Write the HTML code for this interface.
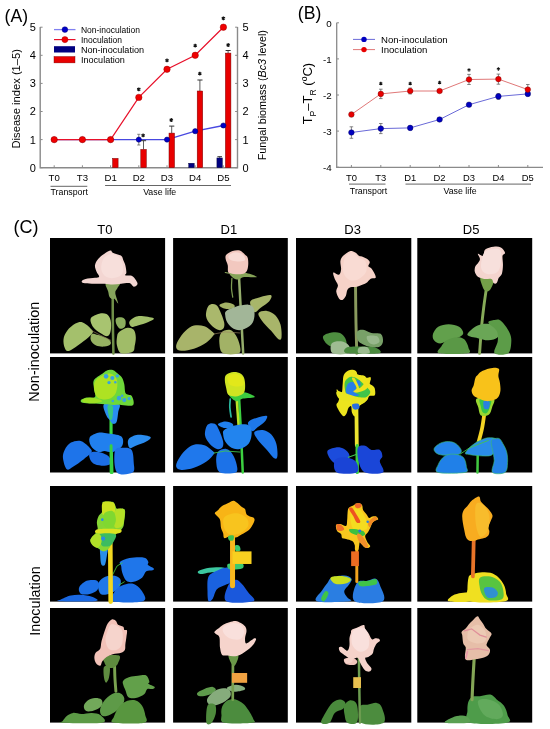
<!DOCTYPE html>
<html><head><meta charset="utf-8"><style>
html,body{margin:0;padding:0;background:#fff;}
svg{display:block;}
</style></head><body>
<svg width="550" height="729" viewBox="0 0 550 729">
<rect width="550" height="729" fill="#fff"/>
<text x="4.6" y="21.6" font-size="17.6" font-family="'Liberation Sans', Arial, sans-serif">(A)</text>
<path d="M40.2 27 V167.7 H237.5 V27" fill="none" stroke="#8a8a8a" stroke-width="1.4"/>
<line x1="40.2" x2="42.6" y1="167.7" y2="167.7" stroke="#8a8a8a" stroke-width="1"/>
<line x1="235.1" x2="237.5" y1="167.7" y2="167.7" stroke="#8a8a8a" stroke-width="1"/>
<text x="35.8" y="171.6" font-size="11" text-anchor="end" font-family="'Liberation Sans', Arial, sans-serif">0</text>
<text x="242.6" y="171.6" font-size="11" font-family="'Liberation Sans', Arial, sans-serif">0</text>
<line x1="40.2" x2="42.6" y1="139.6" y2="139.6" stroke="#8a8a8a" stroke-width="1"/>
<line x1="235.1" x2="237.5" y1="139.6" y2="139.6" stroke="#8a8a8a" stroke-width="1"/>
<text x="35.8" y="143.5" font-size="11" text-anchor="end" font-family="'Liberation Sans', Arial, sans-serif">1</text>
<text x="242.6" y="143.5" font-size="11" font-family="'Liberation Sans', Arial, sans-serif">1</text>
<line x1="40.2" x2="42.6" y1="111.5" y2="111.5" stroke="#8a8a8a" stroke-width="1"/>
<line x1="235.1" x2="237.5" y1="111.5" y2="111.5" stroke="#8a8a8a" stroke-width="1"/>
<text x="35.8" y="115.4" font-size="11" text-anchor="end" font-family="'Liberation Sans', Arial, sans-serif">2</text>
<text x="242.6" y="115.4" font-size="11" font-family="'Liberation Sans', Arial, sans-serif">2</text>
<line x1="40.2" x2="42.6" y1="83.4" y2="83.4" stroke="#8a8a8a" stroke-width="1"/>
<line x1="235.1" x2="237.5" y1="83.4" y2="83.4" stroke="#8a8a8a" stroke-width="1"/>
<text x="35.8" y="87.3" font-size="11" text-anchor="end" font-family="'Liberation Sans', Arial, sans-serif">3</text>
<text x="242.6" y="87.3" font-size="11" font-family="'Liberation Sans', Arial, sans-serif">3</text>
<line x1="40.2" x2="42.6" y1="55.3" y2="55.3" stroke="#8a8a8a" stroke-width="1"/>
<line x1="235.1" x2="237.5" y1="55.3" y2="55.3" stroke="#8a8a8a" stroke-width="1"/>
<text x="35.8" y="59.2" font-size="11" text-anchor="end" font-family="'Liberation Sans', Arial, sans-serif">4</text>
<text x="242.6" y="59.2" font-size="11" font-family="'Liberation Sans', Arial, sans-serif">4</text>
<line x1="40.2" x2="42.6" y1="27.2" y2="27.2" stroke="#8a8a8a" stroke-width="1"/>
<line x1="235.1" x2="237.5" y1="27.2" y2="27.2" stroke="#8a8a8a" stroke-width="1"/>
<text x="35.8" y="31.1" font-size="11" text-anchor="end" font-family="'Liberation Sans', Arial, sans-serif">5</text>
<text x="242.6" y="31.1" font-size="11" font-family="'Liberation Sans', Arial, sans-serif">5</text>
<line x1="54.2" x2="54.2" y1="167.7" y2="165.3" stroke="#8a8a8a" stroke-width="1"/>
<text x="54.2" y="181.4" font-size="9.6" text-anchor="middle" font-family="'Liberation Sans', Arial, sans-serif">T0</text>
<line x1="82.4" x2="82.4" y1="167.7" y2="165.3" stroke="#8a8a8a" stroke-width="1"/>
<text x="82.4" y="181.4" font-size="9.6" text-anchor="middle" font-family="'Liberation Sans', Arial, sans-serif">T3</text>
<line x1="110.6" x2="110.6" y1="167.7" y2="165.3" stroke="#8a8a8a" stroke-width="1"/>
<text x="110.6" y="181.4" font-size="9.6" text-anchor="middle" font-family="'Liberation Sans', Arial, sans-serif">D1</text>
<line x1="138.8" x2="138.8" y1="167.7" y2="165.3" stroke="#8a8a8a" stroke-width="1"/>
<text x="138.8" y="181.4" font-size="9.6" text-anchor="middle" font-family="'Liberation Sans', Arial, sans-serif">D2</text>
<line x1="167.0" x2="167.0" y1="167.7" y2="165.3" stroke="#8a8a8a" stroke-width="1"/>
<text x="167.0" y="181.4" font-size="9.6" text-anchor="middle" font-family="'Liberation Sans', Arial, sans-serif">D3</text>
<line x1="195.2" x2="195.2" y1="167.7" y2="165.3" stroke="#8a8a8a" stroke-width="1"/>
<text x="195.2" y="181.4" font-size="9.6" text-anchor="middle" font-family="'Liberation Sans', Arial, sans-serif">D4</text>
<line x1="223.4" x2="223.4" y1="167.7" y2="165.3" stroke="#8a8a8a" stroke-width="1"/>
<text x="223.4" y="181.4" font-size="9.6" text-anchor="middle" font-family="'Liberation Sans', Arial, sans-serif">D5</text>
<line x1="50.5" x2="87.3" y1="186.3" y2="186.3" stroke="#555" stroke-width="0.9"/>
<text x="69.2" y="195" font-size="8.8" text-anchor="middle" font-family="'Liberation Sans', Arial, sans-serif">Transport</text>
<line x1="105.1" x2="231" y1="185.5" y2="185.5" stroke="#555" stroke-width="0.9"/>
<text x="159.7" y="195" font-size="8.8" text-anchor="middle" font-family="'Liberation Sans', Arial, sans-serif">Vase life</text>
<text transform="translate(20.4 98.75) rotate(-90)" font-size="11.2" text-anchor="middle" font-family="'Liberation Sans', Arial, sans-serif">Disease index (1–5)</text>
<text transform="translate(265.5 95.2) rotate(-90)" font-size="10.8" text-anchor="middle" font-family="'Liberation Sans', Arial, sans-serif">Fungal biomass (<tspan font-style="italic">Bc3</tspan> level)</text>
<polyline points="54.2,139.6 82.4,139.6 110.6,139.6 138.8,139.6 167.0,139.6 195.2,131.2 223.4,125.5" fill="none" stroke="#4848e0" stroke-width="1.3"/>
<polyline points="54.2,139.6 82.4,139.6 110.6,139.6 138.8,97.4 167.0,69.3 195.2,55.3 223.4,27.2" fill="none" stroke="#e8102a" stroke-width="1.2"/>
<rect x="188.7" y="163.2" width="5.5" height="4.5" fill="#000080" stroke="#000030" stroke-width="0.4"/>
<line x1="219.7" x2="219.7" y1="157.9" y2="156.5" stroke="#333" stroke-width="0.8"/>
<line x1="217.4" x2="222.0" y1="156.5" y2="156.5" stroke="#333" stroke-width="0.8"/>
<rect x="216.9" y="157.9" width="5.5" height="9.8" fill="#000080" stroke="#000030" stroke-width="0.4"/>
<rect x="112.6" y="158.4" width="5.5" height="9.3" fill="#e80000" stroke="#7a0000" stroke-width="0.5"/>
<line x1="143.5" x2="143.5" y1="149.4" y2="140.7" stroke="#333" stroke-width="0.8"/>
<line x1="141.0" x2="146.1" y1="140.7" y2="140.7" stroke="#333" stroke-width="1"/>
<rect x="140.8" y="149.4" width="5.5" height="18.3" fill="#e80000" stroke="#7a0000" stroke-width="0.5"/>
<line x1="171.7" x2="171.7" y1="133.1" y2="126.1" stroke="#333" stroke-width="0.8"/>
<line x1="169.2" x2="174.3" y1="126.1" y2="126.1" stroke="#333" stroke-width="1"/>
<rect x="169.0" y="133.1" width="5.5" height="34.6" fill="#e80000" stroke="#7a0000" stroke-width="0.5"/>
<line x1="199.9" x2="199.9" y1="91.0" y2="80.0" stroke="#333" stroke-width="0.8"/>
<line x1="197.4" x2="202.5" y1="80.0" y2="80.0" stroke="#333" stroke-width="1"/>
<rect x="197.2" y="91.0" width="5.5" height="76.7" fill="#e80000" stroke="#7a0000" stroke-width="0.5"/>
<line x1="228.1" x2="228.1" y1="53.1" y2="50.5" stroke="#333" stroke-width="0.8"/>
<line x1="225.6" x2="230.7" y1="50.5" y2="50.5" stroke="#333" stroke-width="1"/>
<rect x="225.4" y="53.1" width="5.5" height="114.6" fill="#e80000" stroke="#7a0000" stroke-width="0.5"/>
<path d="M138.8 134.3 V145 M137.2 134.3 H140.4 M137.2 145 H140.4" stroke="#555" stroke-width="0.7" fill="none"/>
<circle cx="54.2" cy="139.6" r="2.6" fill="#0000c8" stroke="#000060" stroke-width="0.5"/>
<circle cx="82.4" cy="139.6" r="2.6" fill="#0000c8" stroke="#000060" stroke-width="0.5"/>
<circle cx="110.6" cy="139.6" r="2.6" fill="#0000c8" stroke="#000060" stroke-width="0.5"/>
<circle cx="138.8" cy="139.6" r="2.6" fill="#0000c8" stroke="#000060" stroke-width="0.5"/>
<circle cx="167.0" cy="139.6" r="2.6" fill="#0000c8" stroke="#000060" stroke-width="0.5"/>
<circle cx="195.2" cy="131.2" r="2.6" fill="#0000c8" stroke="#000060" stroke-width="0.5"/>
<circle cx="223.4" cy="125.5" r="2.6" fill="#0000c8" stroke="#000060" stroke-width="0.5"/>
<circle cx="54.2" cy="139.6" r="3.2" fill="#f00000" stroke="#a00000" stroke-width="0.5"/>
<circle cx="82.4" cy="139.6" r="3.2" fill="#f00000" stroke="#a00000" stroke-width="0.5"/>
<circle cx="110.6" cy="139.6" r="3.2" fill="#f00000" stroke="#a00000" stroke-width="0.5"/>
<circle cx="138.8" cy="97.4" r="3.2" fill="#f00000" stroke="#a00000" stroke-width="0.5"/>
<circle cx="167.0" cy="69.3" r="3.2" fill="#f00000" stroke="#a00000" stroke-width="0.5"/>
<circle cx="195.2" cy="55.3" r="3.2" fill="#f00000" stroke="#a00000" stroke-width="0.5"/>
<circle cx="223.4" cy="27.2" r="3.2" fill="#f00000" stroke="#a00000" stroke-width="0.5"/>
<path d="M138.80 87.40L138.80 91.20M137.15 88.35L140.45 90.25M140.45 88.35L137.15 90.25" stroke="#111" stroke-width="1.15" fill="none"/>
<path d="M167.00 58.50L167.00 62.30M165.35 59.45L168.65 61.35M168.65 59.45L165.35 61.35" stroke="#111" stroke-width="1.15" fill="none"/>
<path d="M195.20 43.70L195.20 47.50M193.55 44.65L196.85 46.55M196.85 44.65L193.55 46.55" stroke="#111" stroke-width="1.15" fill="none"/>
<path d="M223.40 16.40L223.40 20.20M221.75 17.35L225.05 19.25M225.05 17.35L221.75 19.25" stroke="#111" stroke-width="1.15" fill="none"/>
<path d="M143.10 133.50L143.10 137.30M141.45 134.45L144.75 136.35M144.75 134.45L141.45 136.35" stroke="#111" stroke-width="1.15" fill="none"/>
<path d="M171.30 118.10L171.30 121.90M169.65 119.05L172.95 120.95M172.95 119.05L169.65 120.95" stroke="#111" stroke-width="1.15" fill="none"/>
<path d="M199.80 71.70L199.80 75.50M198.15 72.65L201.45 74.55M201.45 72.65L198.15 74.55" stroke="#111" stroke-width="1.15" fill="none"/>
<path d="M228.20 43.10L228.20 46.90M226.55 44.05L229.85 45.95M229.85 44.05L226.55 45.95" stroke="#111" stroke-width="1.15" fill="none"/>
<line x1="54" x2="75.5" y1="29.6" y2="29.6" stroke="#8080f0" stroke-width="1.3"/>
<circle cx="64.9" cy="29.6" r="2.9" fill="#0000c8" stroke="#000060" stroke-width="0.4"/>
<line x1="54" x2="75.5" y1="39.6" y2="39.6" stroke="#e8102a" stroke-width="1.2"/>
<circle cx="64.9" cy="39.6" r="3.1" fill="#f00000" stroke="#a00000" stroke-width="0.4"/>
<rect x="54" y="46.2" width="21" height="6.3" fill="#000080"/>
<rect x="54" y="56.5" width="21" height="6.4" fill="#e80000" stroke="#7a0000" stroke-width="0.4"/>
<text x="80.9" y="32.7" font-size="8.5" font-family="'Liberation Sans', Arial, sans-serif">Non-inoculation</text>
<text x="80.9" y="42.7" font-size="8.5" font-family="'Liberation Sans', Arial, sans-serif">Inoculation</text>
<text x="80.9" y="52.7" font-size="9.1" font-family="'Liberation Sans', Arial, sans-serif">Non-inoculation</text>
<text x="80.9" y="62.8" font-size="9.1" font-family="'Liberation Sans', Arial, sans-serif">Inoculation</text>
<text x="297.8" y="19.4" font-size="17.6" font-family="'Liberation Sans', Arial, sans-serif">(B)</text>
<path d="M336.7 22.8 V167.4 H543" fill="none" stroke="#8a8a8a" stroke-width="1.3"/>
<line x1="336.7" x2="339" y1="22.8" y2="22.8" stroke="#8a8a8a" stroke-width="1"/>
<text x="331.6" y="26.9" font-size="9.8" text-anchor="end" font-family="'Liberation Sans', Arial, sans-serif">0</text>
<line x1="336.7" x2="339" y1="58.9" y2="58.9" stroke="#8a8a8a" stroke-width="1"/>
<text x="331.6" y="63.0" font-size="9.8" text-anchor="end" font-family="'Liberation Sans', Arial, sans-serif">-1</text>
<line x1="336.7" x2="339" y1="95.0" y2="95.0" stroke="#8a8a8a" stroke-width="1"/>
<text x="331.6" y="99.1" font-size="9.8" text-anchor="end" font-family="'Liberation Sans', Arial, sans-serif">-2</text>
<line x1="336.7" x2="339" y1="131.1" y2="131.1" stroke="#8a8a8a" stroke-width="1"/>
<text x="331.6" y="135.2" font-size="9.8" text-anchor="end" font-family="'Liberation Sans', Arial, sans-serif">-3</text>
<line x1="336.7" x2="339" y1="167.2" y2="167.2" stroke="#8a8a8a" stroke-width="1"/>
<text x="331.6" y="171.3" font-size="9.8" text-anchor="end" font-family="'Liberation Sans', Arial, sans-serif">-4</text>
<line x1="351.4" x2="351.4" y1="167.4" y2="165" stroke="#8a8a8a" stroke-width="1"/>
<text x="351.4" y="180.6" font-size="9.4" text-anchor="middle" font-family="'Liberation Sans', Arial, sans-serif">T0</text>
<line x1="380.8" x2="380.8" y1="167.4" y2="165" stroke="#8a8a8a" stroke-width="1"/>
<text x="380.8" y="180.6" font-size="9.4" text-anchor="middle" font-family="'Liberation Sans', Arial, sans-serif">T3</text>
<line x1="410.2" x2="410.2" y1="167.4" y2="165" stroke="#8a8a8a" stroke-width="1"/>
<text x="410.2" y="180.6" font-size="9.4" text-anchor="middle" font-family="'Liberation Sans', Arial, sans-serif">D1</text>
<line x1="439.6" x2="439.6" y1="167.4" y2="165" stroke="#8a8a8a" stroke-width="1"/>
<text x="439.6" y="180.6" font-size="9.4" text-anchor="middle" font-family="'Liberation Sans', Arial, sans-serif">D2</text>
<line x1="469.0" x2="469.0" y1="167.4" y2="165" stroke="#8a8a8a" stroke-width="1"/>
<text x="469.0" y="180.6" font-size="9.4" text-anchor="middle" font-family="'Liberation Sans', Arial, sans-serif">D3</text>
<line x1="498.4" x2="498.4" y1="167.4" y2="165" stroke="#8a8a8a" stroke-width="1"/>
<text x="498.4" y="180.6" font-size="9.4" text-anchor="middle" font-family="'Liberation Sans', Arial, sans-serif">D4</text>
<line x1="527.8" x2="527.8" y1="167.4" y2="165" stroke="#8a8a8a" stroke-width="1"/>
<text x="527.8" y="180.6" font-size="9.4" text-anchor="middle" font-family="'Liberation Sans', Arial, sans-serif">D5</text>
<line x1="349" x2="385.5" y1="184.1" y2="184.1" stroke="#555" stroke-width="0.9"/>
<text x="368.5" y="194" font-size="8.8" text-anchor="middle" font-family="'Liberation Sans', Arial, sans-serif">Transport</text>
<line x1="405.5" x2="531" y1="184.1" y2="184.1" stroke="#555" stroke-width="0.9"/>
<text x="460" y="194" font-size="8.8" text-anchor="middle" font-family="'Liberation Sans', Arial, sans-serif">Vase life</text>
<text transform="translate(312 93.6) rotate(-90)" font-size="13" text-anchor="middle" font-family="'Liberation Sans', Arial, sans-serif">T<tspan font-size="8.6" dy="3.8">P</tspan><tspan dy="-3.8">–T</tspan><tspan font-size="8.6" dy="3.8">R</tspan><tspan dy="-3.8"> (</tspan><tspan font-size="8.6" dy="-5">o</tspan><tspan dy="5">C)</tspan></text>
<polyline points="351.4,132.5 380.8,128.6 410.2,127.9 439.6,119.5 469.0,104.7 498.4,96.4 527.8,93.9" fill="none" stroke="#6a6ad8" stroke-width="1"/>
<polyline points="351.4,114.5 380.8,93.9 410.2,91.0 439.6,91.0 469.0,79.5 498.4,79.1 527.8,89.6" fill="none" stroke="#e07878" stroke-width="1"/>
<path d="M351.4 126.8 V138.3 M349.6 126.8 H353.2 M349.6 138.3 H353.2" stroke="#555" stroke-width="0.7" fill="none"/>
<path d="M380.8 123.5 V133.6 M379.0 123.5 H382.6 M379.0 133.6 H382.6" stroke="#555" stroke-width="0.7" fill="none"/>
<path d="M410.2 126.4 V129.3 M408.4 126.4 H412.0 M408.4 129.3 H412.0" stroke="#555" stroke-width="0.7" fill="none"/>
<path d="M439.6 118.1 V121.0 M437.8 118.1 H441.4 M437.8 121.0 H441.4" stroke="#555" stroke-width="0.7" fill="none"/>
<path d="M469.0 103.3 V106.2 M467.2 103.3 H470.8 M467.2 106.2 H470.8" stroke="#555" stroke-width="0.7" fill="none"/>
<path d="M498.4 93.6 V99.3 M496.6 93.6 H500.2 M496.6 99.3 H500.2" stroke="#555" stroke-width="0.7" fill="none"/>
<path d="M527.8 92.5 V95.4 M526.0 92.5 H529.6 M526.0 95.4 H529.6" stroke="#555" stroke-width="0.7" fill="none"/>
<path d="M351.4 112.3 V116.7 M349.6 112.3 H353.2 M349.6 116.7 H353.2" stroke="#555" stroke-width="0.7" fill="none"/>
<path d="M380.8 89.2 V98.6 M379.0 89.2 H382.6 M379.0 98.6 H382.6" stroke="#555" stroke-width="0.7" fill="none"/>
<path d="M410.2 88.1 V93.9 M408.4 88.1 H412.0 M408.4 93.9 H412.0" stroke="#555" stroke-width="0.7" fill="none"/>
<path d="M439.6 89.6 V92.5 M437.8 89.6 H441.4 M437.8 92.5 H441.4" stroke="#555" stroke-width="0.7" fill="none"/>
<path d="M469.0 74.4 V84.5 M467.2 74.4 H470.8 M467.2 84.5 H470.8" stroke="#555" stroke-width="0.7" fill="none"/>
<path d="M498.4 74.1 V84.2 M496.6 74.1 H500.2 M496.6 84.2 H500.2" stroke="#555" stroke-width="0.7" fill="none"/>
<path d="M527.8 84.5 V94.6 M526.0 84.5 H529.6 M526.0 94.6 H529.6" stroke="#555" stroke-width="0.7" fill="none"/>
<circle cx="351.4" cy="132.5" r="2.8" fill="#0000c0" stroke="#000050" stroke-width="0.4"/>
<circle cx="380.8" cy="128.6" r="2.8" fill="#0000c0" stroke="#000050" stroke-width="0.4"/>
<circle cx="410.2" cy="127.9" r="2.8" fill="#0000c0" stroke="#000050" stroke-width="0.4"/>
<circle cx="439.6" cy="119.5" r="2.8" fill="#0000c0" stroke="#000050" stroke-width="0.4"/>
<circle cx="469.0" cy="104.7" r="2.8" fill="#0000c0" stroke="#000050" stroke-width="0.4"/>
<circle cx="498.4" cy="96.4" r="2.8" fill="#0000c0" stroke="#000050" stroke-width="0.4"/>
<circle cx="527.8" cy="93.9" r="2.8" fill="#0000c0" stroke="#000050" stroke-width="0.4"/>
<circle cx="351.4" cy="114.5" r="2.8" fill="#e80000" stroke="#700000" stroke-width="0.4"/>
<circle cx="380.8" cy="93.9" r="2.8" fill="#e80000" stroke="#700000" stroke-width="0.4"/>
<circle cx="410.2" cy="91.0" r="2.8" fill="#e80000" stroke="#700000" stroke-width="0.4"/>
<circle cx="439.6" cy="91.0" r="2.8" fill="#e80000" stroke="#700000" stroke-width="0.4"/>
<circle cx="469.0" cy="79.5" r="2.8" fill="#e80000" stroke="#700000" stroke-width="0.4"/>
<circle cx="498.4" cy="79.1" r="2.8" fill="#e80000" stroke="#700000" stroke-width="0.4"/>
<circle cx="527.8" cy="89.6" r="2.8" fill="#e80000" stroke="#700000" stroke-width="0.4"/>
<path d="M380.80 81.84L380.80 85.36M379.27 82.72L382.33 84.48M382.33 82.72L379.27 84.48" stroke="#111" stroke-width="1.07" fill="none"/>
<path d="M410.20 81.84L410.20 85.36M408.67 82.72L411.73 84.48M411.73 82.72L408.67 84.48" stroke="#111" stroke-width="1.07" fill="none"/>
<path d="M439.60 80.84L439.60 84.36M438.07 81.72L441.13 83.48M441.13 81.72L438.07 83.48" stroke="#111" stroke-width="1.07" fill="none"/>
<path d="M469.00 68.24L469.00 71.76M467.47 69.12L470.53 70.88M470.53 69.12L467.47 70.88" stroke="#111" stroke-width="1.07" fill="none"/>
<path d="M498.40 67.24L498.40 70.76M496.87 68.12L499.93 69.88M499.93 68.12L496.87 69.88" stroke="#111" stroke-width="1.07" fill="none"/>
<line x1="353" x2="375" y1="39.4" y2="39.4" stroke="#6a6ad8" stroke-width="1"/>
<circle cx="364" cy="39.4" r="2.7" fill="#0000c0"/>
<line x1="353" x2="375" y1="49.6" y2="49.6" stroke="#e07878" stroke-width="1"/>
<circle cx="364" cy="49.6" r="2.7" fill="#e80000"/>
<text x="381" y="42.8" font-size="9.6" font-family="'Liberation Sans', Arial, sans-serif">Non-inoculation</text>
<text x="381" y="53" font-size="9.6" font-family="'Liberation Sans', Arial, sans-serif">Inoculation</text>
<text x="13.4" y="233.2" font-size="18" font-family="'Liberation Sans', Arial, sans-serif">(C)</text>
<text x="104.8" y="233.6" font-size="13" text-anchor="middle" font-family="'Liberation Sans', Arial, sans-serif">T0</text>
<text x="228.9" y="233.6" font-size="13" text-anchor="middle" font-family="'Liberation Sans', Arial, sans-serif">D1</text>
<text x="352.6" y="233.6" font-size="13" text-anchor="middle" font-family="'Liberation Sans', Arial, sans-serif">D3</text>
<text x="471.1" y="233.6" font-size="13" text-anchor="middle" font-family="'Liberation Sans', Arial, sans-serif">D5</text>
<text transform="translate(38.9 351.7) rotate(-90)" font-size="14.4" text-anchor="middle" font-family="'Liberation Sans', Arial, sans-serif">Non-inoculation</text>
<text transform="translate(39.9 601) rotate(-90)" font-size="14.4" text-anchor="middle" font-family="'Liberation Sans', Arial, sans-serif">Inoculation</text>
<g transform="translate(50 238) scale(0.20927 0.20982)"><rect width="550" height="550" fill="#000"/><path d="M300.0,225.0 C300.0,250.8 299.5,325.8 300.0,380.0 C300.5,434.2 302.5,521.7 303.0,550.0" fill="none" stroke="#6f8f48" stroke-width="12" stroke-linecap="round"/><path d="M200.0,437.6 C191.7,428.1 166.7,403.1 150.0,400.6 C133.3,398.1 113.3,412.3 100.0,422.6 C86.7,432.9 75.8,449.3 70.0,462.6 C64.2,475.9 63.3,490.1 65.0,502.6 C66.7,515.1 72.5,533.4 80.0,537.6 C87.5,541.8 96.7,535.1 110.0,527.6 C123.3,520.1 145.0,504.3 160.0,492.6 C175.0,480.9 193.3,466.8 200.0,457.6 C206.7,448.4 208.3,447.1 200.0,437.6Z" fill="#a4c06c" /><path d="M195.0,382.6 C200.0,372.3 222.5,363.9 235.0,360.6 C247.5,357.3 260.8,357.3 270.0,362.6 C279.2,367.9 286.7,379.3 290.0,392.6 C293.3,405.9 292.5,430.1 290.0,442.6 C287.5,455.1 283.3,465.9 275.0,467.6 C266.7,469.3 251.7,460.1 240.0,452.6 C228.3,445.1 212.5,434.3 205.0,422.6 C197.5,410.9 190.0,392.9 195.0,382.6Z" fill="#a8c470" /><path d="M200.0,457.6 C205.8,453.4 216.7,458.4 230.0,462.6 C243.3,466.8 270.0,475.6 280.0,482.6 C290.0,489.6 293.3,498.8 290.0,504.6 C286.7,510.4 271.7,516.3 260.0,517.6 C248.3,518.9 230.8,517.6 220.0,512.6 C209.2,507.6 198.3,496.8 195.0,487.6 C191.7,478.4 194.2,461.8 200.0,457.6Z" fill="#96b262" /><path d="M315.0,384.6 C318.7,378.8 332.5,376.6 340.0,377.6 C347.5,378.6 357.0,383.1 360.0,390.6 C363.0,398.1 362.2,415.6 358.0,422.6 C353.8,429.6 341.7,434.3 335.0,432.6 C328.3,430.9 321.3,420.6 318.0,412.6 C314.7,404.6 311.3,390.4 315.0,384.6Z" fill="#8cae5e" /><path d="M380.0,397.6 C385.0,389.3 400.8,375.1 420.0,372.6 C439.2,370.1 486.7,377.9 495.0,382.6 C503.3,387.3 482.5,394.8 470.0,400.6 C457.5,406.4 433.3,413.9 420.0,417.6 C406.7,421.3 396.7,425.9 390.0,422.6 C383.3,419.3 375.0,405.9 380.0,397.6Z" fill="#a2bf6a" /><path d="M330.0,447.6 C338.3,440.1 358.3,429.3 370.0,427.6 C381.7,425.9 393.3,430.1 400.0,437.6 C406.7,445.1 409.2,460.1 410.0,472.6 C410.8,485.1 407.5,500.9 405.0,512.6 C402.5,524.3 405.8,536.4 395.0,542.6 C384.2,548.8 352.5,554.6 340.0,549.6 C327.5,544.6 323.3,525.4 320.0,512.6 C316.7,499.8 318.3,483.4 320.0,472.6 C321.7,461.8 321.7,455.1 330.0,447.6Z" fill="#a0bc68" /><polyline points="200,442.6 240,462.6 290,487.6" fill="none" stroke="#9a8a60" stroke-width="3" stroke-linecap="round"/><path d="M268.0,215.0 C277.0,208.3 323.0,210.8 332.0,215.0 C341.0,219.2 325.3,232.2 322.0,240.0 C318.7,247.8 311.3,250.0 312.0,262.0 C312.7,274.0 326.7,307.3 326.0,312.0 C325.3,316.7 312.7,293.3 308.0,290.0 C303.3,286.7 302.0,293.7 298.0,292.0 C294.0,290.3 287.3,286.2 284.0,280.0 C280.7,273.8 280.7,265.8 278.0,255.0 C275.3,244.2 259.0,221.7 268.0,215.0Z" fill="#86a45c" /><path d="M230.0,100.0 C237.5,90.8 250.0,81.7 260.0,75.0 C270.0,68.3 283.3,60.8 290.0,60.0 C296.7,59.2 291.7,65.8 300.0,70.0 C308.3,74.2 331.7,79.2 340.0,85.0 C348.3,90.8 346.7,97.5 350.0,105.0 C353.3,112.5 357.5,120.0 360.0,130.0 C362.5,140.0 365.0,157.0 365.0,165.0 C365.0,173.0 355.8,175.5 360.0,178.0 C364.2,180.5 381.7,176.3 390.0,180.0 C398.3,183.7 405.3,193.3 410.0,200.0 C414.7,206.7 419.7,214.7 418.0,220.0 C416.3,225.3 406.3,232.8 400.0,232.0 C393.7,231.2 390.0,217.3 380.0,215.0 C370.0,212.7 353.3,216.8 340.0,218.0 C326.7,219.2 313.3,222.0 300.0,222.0 C286.7,222.0 276.7,218.7 260.0,218.0 C243.3,217.3 216.7,218.5 200.0,218.0 C183.3,217.5 168.0,217.2 160.0,215.0 C152.0,212.8 150.3,208.3 152.0,205.0 C153.7,201.7 159.5,197.5 170.0,195.0 C180.5,192.5 204.2,191.7 215.0,190.0 C225.8,188.3 233.8,190.0 235.0,185.0 C236.2,180.0 225.3,169.2 222.0,160.0 C218.7,150.8 213.7,140.0 215.0,130.0 C216.3,120.0 222.5,109.2 230.0,100.0Z" fill="#f3d6d2" /><path d="M255.0,100.0 C262.5,88.0 277.5,79.3 290.0,78.0 C302.5,76.7 320.3,83.3 330.0,92.0 C339.7,100.7 345.5,117.0 348.0,130.0 C350.5,143.0 351.3,160.0 345.0,170.0 C338.7,180.0 322.8,187.5 310.0,190.0 C297.2,192.5 278.8,191.7 268.0,185.0 C257.2,178.3 247.2,164.2 245.0,150.0 C242.8,135.8 247.5,112.0 255.0,100.0Z" fill="#f7dfdb" /></g>
<g transform="translate(173.1 238) scale(0.20855 0.20982)"><rect width="550" height="550" fill="#000"/><path d="M316.0,185.0 C317.3,209.2 320.7,269.2 324.0,330.0 C327.3,390.8 334.0,513.3 336.0,550.0" fill="none" stroke="#95ad6c" stroke-width="12" stroke-linecap="round"/><path d="M282.0,192.0 C281.7,200.0 279.3,225.0 280.0,240.0 C280.7,255.0 285.0,275.0 286.0,282.0" fill="none" stroke="#7c9a52" stroke-width="6" stroke-linecap="round"/><path d="M195.0,452.6 C187.5,445.6 165.8,426.4 150.0,420.6 C134.2,414.8 115.0,413.9 100.0,417.6 C85.0,421.3 72.5,430.9 60.0,442.6 C47.5,454.3 32.5,474.3 25.0,487.6 C17.5,500.9 12.5,514.3 15.0,522.6 C17.5,530.9 25.8,536.8 40.0,537.6 C54.2,538.4 80.0,534.3 100.0,527.6 C120.0,520.9 144.2,508.4 160.0,497.6 C175.8,486.8 189.2,470.1 195.0,462.6 C200.8,455.1 202.5,459.6 195.0,452.6Z" fill="#a8b46a" /><path d="M170.0,322.6 C177.8,313.4 195.8,313.4 205.0,317.6 C214.2,321.8 218.3,333.4 225.0,347.6 C231.7,361.8 242.5,388.4 245.0,402.6 C247.5,416.8 245.0,426.8 240.0,432.6 C235.0,438.4 225.0,440.9 215.0,437.6 C205.0,434.3 189.5,423.4 180.0,412.6 C170.5,401.8 159.7,387.6 158.0,372.6 C156.3,357.6 162.2,331.8 170.0,322.6Z" fill="#aab86c" /><path d="M222.0,320.6 C222.8,315.6 243.3,308.1 255.0,307.6 C266.7,307.1 286.2,313.1 292.0,317.6 C297.8,322.1 297.0,331.3 290.0,334.6 C283.0,337.9 261.3,339.9 250.0,337.6 C238.7,335.3 221.2,325.6 222.0,320.6Z" fill="#a2b066" /><path d="M370.0,302.6 C375.0,290.6 403.3,285.6 420.0,280.6 C436.7,275.6 463.3,268.9 470.0,272.6 C476.7,276.3 468.3,292.6 460.0,302.6 C451.7,312.6 431.7,324.3 420.0,332.6 C408.3,340.9 398.3,357.6 390.0,352.6 C381.7,347.6 365.0,314.6 370.0,302.6Z" fill="#a8b66a" /><path d="M410.0,357.6 C414.2,350.1 436.7,345.9 450.0,347.6 C463.3,349.3 479.2,356.8 490.0,367.6 C500.8,378.4 510.0,395.1 515.0,412.6 C520.0,430.1 521.7,460.9 520.0,472.6 C518.3,484.3 513.3,487.6 505.0,482.6 C496.7,477.6 483.3,457.6 470.0,442.6 C456.7,427.6 435.0,406.8 425.0,392.6 C415.0,378.4 405.8,365.1 410.0,357.6Z" fill="#a8b56a" /><path d="M230.0,452.6 C238.0,441.8 258.3,435.9 270.0,437.6 C281.7,439.3 291.7,450.1 300.0,462.6 C308.3,475.1 317.5,498.1 320.0,512.6 C322.5,527.1 328.3,543.4 315.0,549.6 C301.7,555.8 255.5,557.4 240.0,549.6 C224.5,541.8 223.7,518.8 222.0,502.6 C220.3,486.4 222.0,463.4 230.0,452.6Z" fill="#a2b266" /><path d="M255.0,347.6 C263.3,340.9 282.5,332.6 300.0,327.6 C317.5,322.6 345.8,316.8 360.0,317.6 C374.2,318.4 380.0,323.4 385.0,332.6 C390.0,341.8 391.7,359.3 390.0,372.6 C388.3,385.9 385.0,401.8 375.0,412.6 C365.0,423.4 344.2,434.3 330.0,437.6 C315.8,440.9 301.7,438.4 290.0,432.6 C278.3,426.8 266.7,413.4 260.0,402.6 C253.3,391.8 250.8,376.8 250.0,367.6 C249.2,358.4 246.7,354.3 255.0,347.6Z" fill="#a2b698" /><polyline points="195,457.6 250,447.6 320,452.6" fill="none" stroke="#9a8560" stroke-width="3" stroke-linecap="round"/><path d="M272.0,165.0 C281.2,160.7 323.3,162.5 345.0,166.0 C366.7,169.5 402.8,182.7 402.0,186.0 C401.2,189.3 354.5,184.0 340.0,186.0 C325.5,188.0 323.3,197.0 315.0,198.0 C306.7,199.0 297.2,197.5 290.0,192.0 C282.8,186.5 262.8,169.3 272.0,165.0Z" fill="#86a458" /><polyline points="268,168 250,164" fill="none" stroke="#86a458" stroke-width="5" stroke-linecap="round"/><path d="M255.0,80.0 C260.5,73.7 274.2,65.3 285.0,62.0 C295.8,58.7 310.0,57.0 320.0,60.0 C330.0,63.0 338.7,74.2 345.0,80.0 C351.3,85.8 355.5,86.7 358.0,95.0 C360.5,103.3 361.0,119.2 360.0,130.0 C359.0,140.8 357.0,153.0 352.0,160.0 C347.0,167.0 340.3,170.0 330.0,172.0 C319.7,174.0 300.8,173.2 290.0,172.0 C279.2,170.8 269.7,172.0 265.0,165.0 C260.3,158.0 264.2,140.8 262.0,130.0 C259.8,119.2 253.2,108.3 252.0,100.0 C250.8,91.7 249.5,86.3 255.0,80.0Z" fill="#f2c8bf" /><path d="M268.0,82.0 C273.3,77.0 288.8,68.3 300.0,68.0 C311.2,67.7 327.5,73.8 335.0,80.0 C342.5,86.2 347.5,99.7 345.0,105.0 C342.5,110.3 330.0,111.5 320.0,112.0 C310.0,112.5 293.7,110.3 285.0,108.0 C276.3,105.7 270.8,102.3 268.0,98.0 C265.2,93.7 262.7,87.0 268.0,82.0Z" fill="#f8dcd6" /></g>
<g transform="translate(296 238) scale(0.20964 0.20982)"><rect width="550" height="550" fill="#000"/><path d="M284.0,232.0 C284.3,260.0 285.0,347.0 286.0,400.0 C287.0,453.0 289.3,525.0 290.0,550.0" fill="none" stroke="#8a9a5e" stroke-width="14" stroke-linecap="round"/><path d="M130.0,467.6 C135.0,459.8 156.7,453.1 170.0,450.6 C183.3,448.1 199.2,448.1 210.0,452.6 C220.8,457.1 230.0,467.6 235.0,477.6 C240.0,487.6 244.2,505.1 240.0,512.6 C235.8,520.1 221.7,521.8 210.0,522.6 C198.3,523.4 181.7,521.8 170.0,517.6 C158.3,513.4 146.7,505.9 140.0,497.6 C133.3,489.3 125.0,475.4 130.0,467.6Z" fill="#4e8e40" /><path d="M170.0,502.6 C176.7,493.1 201.3,490.9 215.0,492.6 C228.7,494.3 246.2,503.1 252.0,512.6 C257.8,522.1 262.8,543.4 250.0,549.6 C237.2,555.8 188.3,557.4 175.0,549.6 C161.7,541.8 163.3,512.1 170.0,502.6Z" fill="#9fbc92" /><path d="M290.0,447.6 C294.2,439.3 308.3,436.8 320.0,437.6 C331.7,438.4 345.8,449.3 360.0,452.6 C374.2,455.9 395.8,450.9 405.0,457.6 C414.2,464.3 415.8,482.6 415.0,492.6 C414.2,502.6 409.2,512.9 400.0,517.6 C390.8,522.3 373.3,522.3 360.0,520.6 C346.7,518.9 330.8,513.1 320.0,507.6 C309.2,502.1 300.0,497.6 295.0,487.6 C290.0,477.6 285.8,455.9 290.0,447.6Z" fill="#78a068" /><path d="M340.0,467.6 C346.7,463.1 375.3,463.1 385.0,467.6 C394.7,472.1 400.5,487.9 398.0,494.6 C395.5,501.3 378.8,507.6 370.0,507.6 C361.2,507.6 350.0,501.3 345.0,494.6 C340.0,487.9 333.3,472.1 340.0,467.6Z" fill="#98b88c" /><path d="M240.0,522.6 C249.2,517.1 276.7,516.6 300.0,516.6 C323.3,516.6 364.2,517.1 380.0,522.6 C395.8,528.1 417.5,545.1 395.0,549.6 C372.5,554.1 270.8,554.1 245.0,549.6 C219.2,545.1 230.8,528.1 240.0,522.6Z" fill="#4a8a3e" /><path d="M300.0,522.6 C306.7,517.8 331.7,516.1 340.0,520.6 C348.3,525.1 356.7,544.8 350.0,549.6 C343.3,554.4 308.3,554.1 300.0,549.6 C291.7,545.1 293.3,527.4 300.0,522.6Z" fill="#9cbc90" /><path d="M225.0,85.0 C233.0,77.0 250.0,64.5 260.0,62.0 C270.0,59.5 278.3,66.2 285.0,70.0 C291.7,73.8 294.2,81.7 300.0,85.0 C305.8,88.3 313.3,87.5 320.0,90.0 C326.7,92.5 334.7,95.8 340.0,100.0 C345.3,104.2 351.2,109.2 352.0,115.0 C352.8,120.8 343.7,130.0 345.0,135.0 C346.3,140.0 355.5,140.0 360.0,145.0 C364.5,150.0 368.7,157.5 372.0,165.0 C375.3,172.5 382.8,185.0 380.0,190.0 C377.2,195.0 362.5,190.8 355.0,195.0 C347.5,199.2 342.5,210.0 335.0,215.0 C327.5,220.0 317.5,222.2 310.0,225.0 C302.5,227.8 298.3,230.3 290.0,232.0 C281.7,233.7 267.5,232.3 260.0,235.0 C252.5,237.7 248.7,241.3 245.0,248.0 C241.3,254.7 241.8,267.2 238.0,275.0 C234.2,282.8 227.5,292.8 222.0,295.0 C216.5,297.2 210.0,294.7 205.0,288.0 C200.0,281.3 192.8,265.5 192.0,255.0 C191.2,244.5 201.2,235.0 200.0,225.0 C198.8,215.0 188.7,205.0 185.0,195.0 C181.3,185.0 174.7,168.3 178.0,165.0 C181.3,161.7 198.8,177.5 205.0,175.0 C211.2,172.5 213.8,160.8 215.0,150.0 C216.2,139.2 210.3,120.8 212.0,110.0 C213.7,99.2 217.0,93.0 225.0,85.0Z" fill="#f6d2c8" /><path d="M235.0,90.0 C242.5,75.3 259.2,71.2 270.0,72.0 C280.8,72.8 290.0,88.7 300.0,95.0 C310.0,101.3 324.2,99.2 330.0,110.0 C335.8,120.8 340.0,145.8 335.0,160.0 C330.0,174.2 313.3,188.3 300.0,195.0 C286.7,201.7 267.5,205.8 255.0,200.0 C242.5,194.2 228.3,178.3 225.0,160.0 C221.7,141.7 227.5,104.7 235.0,90.0Z" fill="#f9dbd3" /></g>
<g transform="translate(417.3 238) scale(0.20891 0.20982)"><rect width="550" height="550" fill="#000"/><path d="M330.0,245.0 C328.0,259.2 321.7,300.8 318.0,330.0 C314.3,359.2 311.3,383.3 308.0,420.0 C304.7,456.7 299.7,528.3 298.0,550.0" fill="none" stroke="#86aa58" stroke-width="14" stroke-linecap="round"/><path d="M75.0,457.6 C78.3,446.8 87.5,430.4 100.0,422.6 C112.5,414.8 133.3,410.6 150.0,410.6 C166.7,410.6 188.3,415.6 200.0,422.6 C211.7,429.6 220.0,444.3 220.0,452.6 C220.0,460.9 211.7,466.8 200.0,472.6 C188.3,478.4 165.0,482.6 150.0,487.6 C135.0,492.6 121.7,502.6 110.0,502.6 C98.3,502.6 85.8,495.1 80.0,487.6 C74.2,480.1 71.7,468.4 75.0,457.6Z" fill="#62a04c" /><path d="M105.0,549.6 C84.2,544.3 109.2,527.9 115.0,517.6 C120.8,507.3 127.5,495.1 140.0,487.6 C152.5,480.1 175.8,473.4 190.0,472.6 C204.2,471.8 215.8,474.3 225.0,482.6 C234.2,490.9 242.5,511.4 245.0,522.6 C247.5,533.8 263.3,545.1 240.0,549.6 C216.7,554.1 125.8,554.9 105.0,549.6Z" fill="#5a9846" /><path d="M240.0,462.6 C236.7,454.3 258.3,436.3 270.0,427.6 C281.7,418.9 295.0,413.1 310.0,410.6 C325.0,408.1 346.7,408.1 360.0,412.6 C373.3,417.1 385.8,427.6 390.0,437.6 C394.2,447.6 393.3,464.3 385.0,472.6 C376.7,480.9 355.8,486.8 340.0,487.6 C324.2,488.4 306.7,481.8 290.0,477.6 C273.3,473.4 243.3,470.9 240.0,462.6Z" fill="#6aa656" /><path d="M340.0,402.6 C338.3,393.9 360.0,391.9 370.0,390.6 C380.0,389.3 388.3,385.1 400.0,394.6 C411.7,404.1 431.7,431.3 440.0,447.6 C448.3,463.9 450.8,475.6 450.0,492.6 C449.2,509.6 448.3,540.1 435.0,549.6 C421.7,559.1 378.3,559.1 370.0,549.6 C361.7,540.1 383.3,510.4 385.0,492.6 C386.7,474.8 387.5,457.6 380.0,442.6 C372.5,427.6 341.7,411.3 340.0,402.6Z" fill="#5c9c48" /><path d="M305.0,185.0 C315.0,178.3 360.5,179.2 370.0,185.0 C379.5,190.8 366.2,209.2 362.0,220.0 C357.8,230.8 351.2,244.7 345.0,250.0 C338.8,255.3 330.8,256.2 325.0,252.0 C319.2,247.8 313.3,236.2 310.0,225.0 C306.7,213.8 295.0,191.7 305.0,185.0Z" fill="#74a048" /><path d="M290.0,75.0 C292.5,72.5 309.2,88.3 315.0,85.0 C320.8,81.7 316.7,62.2 325.0,55.0 C333.3,47.8 352.5,43.7 365.0,42.0 C377.5,40.3 390.8,40.3 400.0,45.0 C409.2,49.7 418.7,63.3 420.0,70.0 C421.3,76.7 409.7,75.0 408.0,85.0 C406.3,95.0 410.5,115.8 410.0,130.0 C409.5,144.2 408.3,160.0 405.0,170.0 C401.7,180.0 394.2,182.5 390.0,190.0 C385.8,197.5 384.2,210.8 380.0,215.0 C375.8,219.2 369.2,218.3 365.0,215.0 C360.8,211.7 362.5,198.3 355.0,195.0 C347.5,191.7 330.8,196.7 320.0,195.0 C309.2,193.3 297.5,190.8 290.0,185.0 C282.5,179.2 277.0,168.3 275.0,160.0 C273.0,151.7 275.5,141.7 278.0,135.0 C280.5,128.3 286.3,125.8 290.0,120.0 C293.7,114.2 300.0,107.5 300.0,100.0 C300.0,92.5 287.5,77.5 290.0,75.0Z" fill="#f4d4ce" /><path d="M320.0,70.0 C330.0,55.3 352.0,53.7 365.0,52.0 C378.0,50.3 392.2,48.7 398.0,60.0 C403.8,71.3 403.0,102.5 400.0,120.0 C397.0,137.5 391.7,156.7 380.0,165.0 C368.3,173.3 342.5,174.2 330.0,170.0 C317.5,165.8 306.7,156.7 305.0,140.0 C303.3,123.3 310.0,84.7 320.0,70.0Z" fill="#f7e0dc" /></g>
<g transform="translate(50 357) scale(0.20927 0.21000)"><rect width="550" height="550" fill="#000"/><path d="M292.0,225.0 C292.0,254.2 291.3,345.8 292.0,400.0 C292.7,454.2 295.3,525.0 296.0,550.0" fill="none" stroke="#3ad844" stroke-width="15" stroke-linecap="round"/><path d="M195.0,437.6 C187.5,428.1 165.8,405.6 150.0,400.6 C134.2,395.6 113.3,400.6 100.0,407.6 C86.7,414.6 76.3,430.1 70.0,442.6 C63.7,455.1 60.3,467.3 62.0,482.6 C63.7,497.9 72.0,527.9 80.0,534.6 C88.0,541.3 96.7,530.4 110.0,522.6 C123.3,514.8 145.8,498.4 160.0,487.6 C174.2,476.8 189.2,465.9 195.0,457.6 C200.8,449.3 202.5,447.1 195.0,437.6Z" fill="#1e74ea" /><path d="M190.0,382.6 C195.8,372.3 216.7,363.9 230.0,360.6 C243.3,357.3 251.7,359.8 270.0,362.6 C288.3,365.4 327.5,367.6 340.0,377.6 C352.5,387.6 351.7,410.1 345.0,422.6 C338.3,435.1 314.2,448.4 300.0,452.6 C285.8,456.8 271.7,447.6 260.0,447.6 C248.3,447.6 240.8,456.8 230.0,452.6 C219.2,448.4 201.7,434.3 195.0,422.6 C188.3,410.9 184.2,392.9 190.0,382.6Z" fill="#2180ee" /><path d="M190.0,457.6 C196.3,451.8 215.0,450.1 230.0,452.6 C245.0,455.1 270.0,463.4 280.0,472.6 C290.0,481.8 293.3,500.1 290.0,507.6 C286.7,515.1 272.5,517.1 260.0,517.6 C247.5,518.1 226.3,515.6 215.0,510.6 C203.7,505.6 196.2,496.4 192.0,487.6 C187.8,478.8 183.7,463.4 190.0,457.6Z" fill="#1c6ee6" /><path d="M375.0,392.6 C381.7,382.3 402.5,372.6 420.0,370.6 C437.5,368.6 473.3,375.3 480.0,380.6 C486.7,385.9 471.7,395.6 460.0,402.6 C448.3,409.6 423.3,417.6 410.0,422.6 C396.7,427.6 385.8,437.6 380.0,432.6 C374.2,427.6 368.3,402.9 375.0,392.6Z" fill="#2a8cf0" /><path d="M310.0,447.6 C315.0,428.1 336.7,433.4 350.0,432.6 C363.3,431.8 381.7,430.9 390.0,442.6 C398.3,454.3 399.2,484.8 400.0,502.6 C400.8,520.4 408.3,541.8 395.0,549.6 C381.7,557.4 334.2,566.6 320.0,549.6 C305.8,532.6 305.0,467.1 310.0,447.6Z" fill="#1e72e8" /><path d="M292.0,422.6 C292.0,443.8 292.0,528.4 292.0,549.6" fill="none" stroke="#38d040" stroke-width="14" stroke-linecap="round"/><path d="M258.0,225.0 C268.0,215.8 318.7,218.8 330.0,225.0 C341.3,231.2 328.0,247.8 326.0,262.0 C324.0,276.2 322.3,300.7 318.0,310.0 C313.7,319.3 305.5,319.7 300.0,318.0 C294.5,316.3 290.0,306.3 285.0,300.0 C280.0,293.7 274.5,292.5 270.0,280.0 C265.5,267.5 248.0,234.2 258.0,225.0Z" fill="#2a8ef0" /><path d="M275.0,235.0 C277.5,225.0 296.2,225.8 300.0,235.0 C303.8,244.2 300.5,280.0 298.0,290.0 C295.5,300.0 288.8,304.2 285.0,295.0 C281.2,285.8 272.5,245.0 275.0,235.0Z" fill="#38c880" /><path d="M210.0,110.0 C216.7,98.3 240.0,87.5 250.0,80.0 C260.0,72.5 261.7,68.0 270.0,65.0 C278.3,62.0 290.0,58.7 300.0,62.0 C310.0,65.3 322.5,78.7 330.0,85.0 C337.5,91.3 340.8,92.5 345.0,100.0 C349.2,107.5 352.5,118.3 355.0,130.0 C357.5,141.7 356.7,161.7 360.0,170.0 C363.3,178.3 370.0,177.5 375.0,180.0 C380.0,182.5 385.8,179.2 390.0,185.0 C394.2,190.8 400.0,207.2 400.0,215.0 C400.0,222.8 400.0,229.8 390.0,232.0 C380.0,234.2 355.0,228.7 340.0,228.0 C325.0,227.3 313.3,228.5 300.0,228.0 C286.7,227.5 276.7,226.0 260.0,225.0 C243.3,224.0 217.5,223.2 200.0,222.0 C182.5,220.8 163.7,220.8 155.0,218.0 C146.3,215.2 144.7,209.2 148.0,205.0 C151.3,200.8 163.8,195.5 175.0,193.0 C186.2,190.5 209.2,197.2 215.0,190.0 C220.8,182.8 210.8,163.3 210.0,150.0 C209.2,136.7 203.3,121.7 210.0,110.0Z" fill="#6ed83a" /><path d="M215.0,115.0 C221.3,103.0 237.5,93.8 250.0,88.0 C262.5,82.2 278.3,76.3 290.0,80.0 C301.7,83.7 315.8,95.0 320.0,110.0 C324.2,125.0 321.7,155.0 315.0,170.0 C308.3,185.0 294.2,195.8 280.0,200.0 C265.8,204.2 241.3,201.7 230.0,195.0 C218.7,188.3 214.5,173.3 212.0,160.0 C209.5,146.7 208.7,127.0 215.0,115.0Z" fill="#aee222" /><path d="M160.0,200.0 C168.3,196.7 195.0,193.3 210.0,195.0 C225.0,196.7 249.2,205.8 250.0,210.0 C250.8,214.2 230.0,219.2 215.0,220.0 C200.0,220.8 169.2,218.3 160.0,215.0 C150.8,211.7 151.7,203.3 160.0,200.0Z" fill="#9ee024" /><circle cx="268" cy="92" r="11" fill="#38a2e0"/><circle cx="298" cy="100" r="10" fill="#38a2e0"/><circle cx="322" cy="90" r="8" fill="#38a2e0"/><circle cx="282" cy="122" r="8" fill="#38a2e0"/><circle cx="312" cy="120" r="6" fill="#38a2e0"/><circle cx="330" cy="196" r="11" fill="#38a2e0"/><circle cx="355" cy="205" r="10" fill="#38a2e0"/><circle cx="378" cy="198" r="8" fill="#38a2e0"/><circle cx="345" cy="185" r="6" fill="#38a2e0"/><circle cx="300" cy="210" r="6" fill="#38a2e0"/></g>
<g transform="translate(173.1 357) scale(0.20855 0.21000)"><rect width="550" height="550" fill="#000"/><path d="M316.0,190.0 C317.3,213.3 321.0,270.0 324.0,330.0 C327.0,390.0 332.3,513.3 334.0,550.0" fill="none" stroke="#3cd040" stroke-width="12" stroke-linecap="round"/><path d="M304.0,190.0 C305.7,212.5 312.3,302.5 314.0,325.0" fill="none" stroke="#b8e228" stroke-width="12" stroke-linecap="round"/><path d="M274.0,200.0 C273.7,206.7 271.3,225.8 272.0,240.0 C272.7,254.2 277.0,277.5 278.0,285.0" fill="none" stroke="#2ab8a0" stroke-width="8" stroke-linecap="round"/><path d="M195.0,452.6 C187.5,445.6 165.8,426.4 150.0,420.6 C134.2,414.8 115.0,413.9 100.0,417.6 C85.0,421.3 72.5,430.9 60.0,442.6 C47.5,454.3 32.5,474.3 25.0,487.6 C17.5,500.9 12.5,514.3 15.0,522.6 C17.5,530.9 25.8,536.8 40.0,537.6 C54.2,538.4 80.0,534.3 100.0,527.6 C120.0,520.9 144.2,508.4 160.0,497.6 C175.8,486.8 189.2,470.1 195.0,462.6 C200.8,455.1 202.5,459.6 195.0,452.6Z" fill="#1f78ec" /><path d="M165.0,322.6 C172.8,313.4 190.8,313.4 200.0,317.6 C209.2,321.8 213.3,333.4 220.0,347.6 C226.7,361.8 237.5,388.4 240.0,402.6 C242.5,416.8 240.0,426.8 235.0,432.6 C230.0,438.4 220.0,440.9 210.0,437.6 C200.0,434.3 184.5,423.4 175.0,412.6 C165.5,401.8 154.7,387.6 153.0,372.6 C151.3,357.6 157.2,331.8 165.0,322.6Z" fill="#1e76ea" /><path d="M215.0,320.6 C216.2,315.6 238.3,308.1 250.0,307.6 C261.7,307.1 279.5,313.1 285.0,317.6 C290.5,322.1 290.0,331.3 283.0,334.6 C276.0,337.9 254.3,339.9 243.0,337.6 C231.7,335.3 213.8,325.6 215.0,320.6Z" fill="#2080ee" /><path d="M360.0,310.6 C365.3,299.6 395.0,291.6 410.0,286.6 C425.0,281.6 445.0,277.1 450.0,280.6 C455.0,284.1 447.5,298.6 440.0,307.6 C432.5,316.6 415.3,327.1 405.0,334.6 C394.7,342.1 385.5,356.6 378.0,352.6 C370.5,348.6 354.7,321.6 360.0,310.6Z" fill="#1e78ea" /><path d="M390.0,357.6 C394.2,350.1 416.7,345.9 430.0,347.6 C443.3,349.3 459.2,356.8 470.0,367.6 C480.8,378.4 490.0,395.1 495.0,412.6 C500.0,430.1 501.7,460.9 500.0,472.6 C498.3,484.3 493.3,487.6 485.0,482.6 C476.7,477.6 463.3,457.6 450.0,442.6 C436.7,427.6 415.0,406.8 405.0,392.6 C395.0,378.4 385.8,365.1 390.0,357.6Z" fill="#1e78ec" /><path d="M215.0,452.6 C223.0,441.8 243.3,435.9 255.0,437.6 C266.7,439.3 276.7,450.1 285.0,462.6 C293.3,475.1 302.5,498.1 305.0,512.6 C307.5,527.1 313.3,543.4 300.0,549.6 C286.7,555.8 240.5,557.4 225.0,549.6 C209.5,541.8 208.7,518.8 207.0,502.6 C205.3,486.4 207.0,463.4 215.0,452.6Z" fill="#1c72e8" /><path d="M245.0,347.6 C253.3,340.9 273.3,332.1 290.0,327.6 C306.7,323.1 331.3,319.4 345.0,320.6 C358.7,321.8 366.8,325.9 372.0,334.6 C377.2,343.3 377.7,359.6 376.0,372.6 C374.3,385.6 371.3,401.8 362.0,412.6 C352.7,423.4 333.7,434.3 320.0,437.6 C306.3,440.9 291.7,438.4 280.0,432.6 C268.3,426.8 256.7,413.4 250.0,402.6 C243.3,391.8 240.8,376.8 240.0,367.6 C239.2,358.4 236.7,354.3 245.0,347.6Z" fill="#2284ee" /><polyline points="195,457.6 250,447.6 320,452.6" fill="none" stroke="#40c850" stroke-width="4" stroke-linecap="round"/><path d="M265.0,170.0 C271.7,163.0 318.8,164.7 340.0,168.0 C361.2,171.3 392.8,185.0 392.0,190.0 C391.2,195.0 350.3,194.7 335.0,198.0 C319.7,201.3 311.7,214.7 300.0,210.0 C288.3,205.3 258.3,177.0 265.0,170.0Z" fill="#3ccc40" /><path d="M255.0,85.0 C262.0,78.7 278.3,72.8 290.0,72.0 C301.7,71.2 316.3,74.5 325.0,80.0 C333.7,85.5 338.7,93.3 342.0,105.0 C345.3,116.7 346.2,138.3 345.0,150.0 C343.8,161.7 342.5,168.7 335.0,175.0 C327.5,181.3 311.7,187.2 300.0,188.0 C288.3,188.8 272.5,186.3 265.0,180.0 C257.5,173.7 257.8,161.7 255.0,150.0 C252.2,138.3 248.0,120.8 248.0,110.0 C248.0,99.2 248.0,91.3 255.0,85.0Z" fill="#cfe422" /><path d="M262.0,92.0 C267.0,83.7 287.8,78.7 300.0,80.0 C312.2,81.3 329.2,90.8 335.0,100.0 C340.8,109.2 340.8,128.3 335.0,135.0 C329.2,141.7 310.8,140.8 300.0,140.0 C289.2,139.2 276.3,138.0 270.0,130.0 C263.7,122.0 257.0,100.3 262.0,92.0Z" fill="#e2e81a" /></g>
<g transform="translate(296 357) scale(0.20964 0.21000)"><rect width="550" height="550" fill="#000"/><path d="M288.0,225.0 C288.3,257.5 289.7,387.5 290.0,420.0" fill="none" stroke="#ece430" stroke-width="18" stroke-linecap="round"/><path d="M292.0,422.6 C292.0,443.8 292.0,528.4 292.0,549.6" fill="none" stroke="#3cd040" stroke-width="16" stroke-linecap="round"/><path d="M150.0,447.6 C154.2,438.1 176.7,432.3 190.0,430.6 C203.3,428.9 219.2,431.4 230.0,437.6 C240.8,443.8 253.3,455.9 255.0,467.6 C256.7,479.3 249.2,500.1 240.0,507.6 C230.8,515.1 212.5,515.9 200.0,512.6 C187.5,509.3 173.3,498.4 165.0,487.6 C156.7,476.8 145.8,457.1 150.0,447.6Z" fill="#1c4cdc" /><path d="M185.0,492.6 C190.8,480.6 213.3,476.8 230.0,477.6 C246.7,478.4 275.0,485.6 285.0,497.6 C295.0,509.6 305.0,540.9 290.0,549.6 C275.0,558.3 212.5,559.1 195.0,549.6 C177.5,540.1 179.2,504.6 185.0,492.6Z" fill="#1a44d6" /><path d="M295.0,432.6 C300.0,419.3 319.2,420.9 330.0,422.6 C340.8,424.3 348.3,439.3 360.0,442.6 C371.7,445.9 391.3,437.6 400.0,442.6 C408.7,447.6 412.0,463.4 412.0,472.6 C412.0,481.8 399.5,484.8 400.0,497.6 C400.5,510.4 426.7,540.9 415.0,549.6 C403.3,558.3 349.2,557.4 330.0,549.6 C310.8,541.8 305.8,522.1 300.0,502.6 C294.2,483.1 290.0,445.9 295.0,432.6Z" fill="#1a46d8" /><polyline points="250,477.6 290,462.6" fill="none" stroke="#40c850" stroke-width="5" stroke-linecap="round"/><path d="M228.0,86.0 C232.5,75.8 242.0,68.0 250.0,64.0 C258.0,60.0 269.5,60.8 276.0,62.0 C282.5,63.2 286.2,67.7 289.0,71.0 C291.8,74.3 290.2,79.5 293.0,82.0 C295.8,84.5 300.2,84.7 306.0,86.0 C311.8,87.3 322.8,87.8 328.0,90.0 C333.2,92.2 332.7,98.2 337.0,99.0 C341.3,99.8 350.8,94.3 354.0,95.0 C357.2,95.7 356.7,98.0 356.0,103.0 C355.3,108.0 348.2,119.2 350.0,125.0 C351.8,130.8 362.7,133.7 367.0,138.0 C371.3,142.3 374.5,143.7 376.0,151.0 C377.5,158.3 380.3,176.2 376.0,182.0 C371.7,187.8 355.8,182.5 350.0,186.0 C344.2,189.5 346.2,197.2 341.0,203.0 C335.8,208.8 324.8,216.5 319.0,221.0 C313.2,225.5 309.7,226.3 306.0,230.0 C302.3,233.7 299.2,237.3 297.0,243.0 C294.8,248.7 293.7,257.5 293.0,264.0 C292.3,270.5 295.5,279.0 293.0,282.0 C290.5,285.0 282.3,285.0 278.0,282.0 C273.7,279.0 269.5,272.0 267.0,264.0 C264.5,256.0 265.8,237.5 263.0,234.0 C260.2,230.5 253.7,237.2 250.0,243.0 C246.3,248.8 244.7,262.5 241.0,269.0 C237.3,275.5 233.2,282.8 228.0,282.0 C222.8,281.2 215.8,272.7 210.0,264.0 C204.2,255.3 194.3,238.7 193.0,230.0 C191.7,221.3 199.8,218.7 202.0,212.0 C204.2,205.3 207.2,198.0 206.0,190.0 C204.8,182.0 196.8,170.2 195.0,164.0 C193.2,157.8 193.2,153.0 195.0,153.0 C196.8,153.0 202.0,161.3 206.0,164.0 C210.0,166.7 216.2,175.5 219.0,169.0 C221.8,162.5 221.5,138.8 223.0,125.0 C224.5,111.2 223.5,96.2 228.0,86.0Z" fill="#ece41e" /><path d="M232.0,125.0 C233.5,112.0 243.5,104.0 250.0,99.0 C256.5,94.0 263.8,94.3 271.0,95.0 C278.2,95.7 285.7,98.7 293.0,103.0 C300.3,107.3 306.3,113.0 315.0,121.0 C323.7,129.0 338.5,143.0 345.0,151.0 C351.5,159.0 355.3,162.5 354.0,169.0 C352.7,175.5 344.3,185.7 337.0,190.0 C329.7,194.3 320.2,195.0 310.0,195.0 C299.8,195.0 287.5,193.0 276.0,190.0 C264.5,187.0 248.3,187.8 241.0,177.0 C233.7,166.2 230.5,138.0 232.0,125.0Z" fill="#40c44a" /><path d="M239.0,151.0 C240.5,143.0 243.8,130.0 250.0,125.0 C256.2,120.0 269.5,118.0 276.0,121.0 C282.5,124.0 287.7,135.0 289.0,143.0 C290.3,151.0 281.8,162.5 284.0,169.0 C286.2,175.5 304.8,179.2 302.0,182.0 C299.2,184.8 277.2,187.5 267.0,186.0 C256.8,184.5 245.7,178.8 241.0,173.0 C236.3,167.2 237.5,159.0 239.0,151.0Z" fill="#2a7ee6" /><path d="M284.0,117.0 C285.5,112.7 298.0,109.2 302.0,112.0 C306.0,114.8 309.5,129.7 308.0,134.0 C306.5,138.3 297.0,140.8 293.0,138.0 C289.0,135.2 282.5,121.3 284.0,117.0Z" fill="#2a80e4" /><path d="M267.0,103.0 C265.5,95.3 275.0,95.8 280.0,101.0 C285.0,106.2 292.7,126.3 297.0,134.0 C301.3,141.7 298.0,152.2 306.0,147.0 C314.0,141.8 336.7,109.5 345.0,103.0 C353.3,96.5 357.3,100.0 356.0,108.0 C354.7,116.0 347.5,140.8 337.0,151.0 C326.5,161.2 303.5,166.8 293.0,169.0 C282.5,171.2 274.7,167.7 274.0,164.0 C273.3,160.3 290.2,157.2 289.0,147.0 C287.8,136.8 268.5,110.7 267.0,103.0Z" fill="#eee21c" /><path d="M195.0,164.0 C203.0,161.0 233.7,172.7 250.0,177.0 C266.3,181.3 278.5,186.7 293.0,190.0 C307.5,193.3 332.7,191.8 337.0,197.0 C341.3,202.2 330.0,218.5 319.0,221.0 C308.0,223.5 286.2,214.2 271.0,212.0 C255.8,209.8 239.5,210.8 228.0,208.0 C216.5,205.2 207.5,202.3 202.0,195.0 C196.5,187.7 187.0,167.0 195.0,164.0Z" fill="#e8e420" /><path d="M269.0,225.0 C273.3,221.7 291.5,220.0 297.0,223.0 C302.5,226.0 304.2,238.3 302.0,243.0 C299.8,247.7 289.2,251.0 284.0,251.0 C278.8,251.0 273.5,247.3 271.0,243.0 C268.5,238.7 264.7,228.3 269.0,225.0Z" fill="#2a6ee0" /></g>
<g transform="translate(417.3 357) scale(0.20891 0.21000)"><rect width="550" height="550" fill="#000"/><path d="M322.0,262.0 C320.0,275.0 315.0,315.3 310.0,340.0 C305.0,364.7 295.0,398.3 292.0,410.0" fill="none" stroke="#f4d424" stroke-width="18" stroke-linecap="round"/><path d="M290.0,407.6 C289.7,431.3 288.3,525.9 288.0,549.6" fill="none" stroke="#40c840" stroke-width="12" stroke-linecap="round"/><path d="M80.0,437.6 C81.7,428.9 98.3,416.4 110.0,410.6 C121.7,404.8 137.5,402.3 150.0,402.6 C162.5,402.9 175.0,405.9 185.0,412.6 C195.0,419.3 207.5,434.3 210.0,442.6 C212.5,450.9 210.0,458.4 200.0,462.6 C190.0,466.8 166.7,467.6 150.0,467.6 C133.3,467.6 111.7,467.6 100.0,462.6 C88.3,457.6 78.3,446.3 80.0,437.6Z" fill="#2484ea" stroke="#3cbc70" stroke-width="3"/><path d="M100.0,512.6 C105.0,499.8 117.5,480.9 130.0,472.6 C142.5,464.3 160.0,461.8 175.0,462.6 C190.0,463.4 210.0,467.6 220.0,477.6 C230.0,487.6 233.7,510.6 235.0,522.6 C236.3,534.6 250.5,545.1 228.0,549.6 C205.5,554.1 121.3,555.8 100.0,549.6 C78.7,543.4 95.0,525.4 100.0,512.6Z" fill="#2080e8" stroke="#3cbc70" stroke-width="3"/><path d="M230.0,457.6 C231.7,450.6 248.3,432.6 260.0,422.6 C271.7,412.6 286.7,403.9 300.0,397.6 C313.3,391.3 326.7,385.4 340.0,384.6 C353.3,383.8 374.2,384.6 380.0,392.6 C385.8,400.6 379.2,420.1 375.0,432.6 C370.8,445.1 367.5,461.3 355.0,467.6 C342.5,473.9 317.5,471.1 300.0,470.6 C282.5,470.1 261.7,466.8 250.0,464.6 C238.3,462.4 228.3,464.6 230.0,457.6Z" fill="#2a8ce8" stroke="#3cbc70" stroke-width="3"/><path d="M355.0,397.6 C360.0,388.4 380.8,385.1 390.0,387.6 C399.2,390.1 403.7,401.8 410.0,412.6 C416.3,423.4 424.3,437.6 428.0,452.6 C431.7,467.6 433.3,486.4 432.0,502.6 C430.7,518.8 432.0,541.8 420.0,549.6 C408.0,557.4 368.7,559.1 360.0,549.6 C351.3,540.1 368.0,510.4 368.0,492.6 C368.0,474.8 362.2,458.4 360.0,442.6 C357.8,426.8 350.0,406.8 355.0,397.6Z" fill="#2482e6" stroke="#3cbc70" stroke-width="3"/><polyline points="205,462.6 250,432.6 300,412.6 340,397.6" fill="none" stroke="#48c840" stroke-width="4" stroke-linecap="round"/><path d="M285.0,198.0 C297.2,191.0 352.8,191.0 365.0,198.0 C377.2,205.0 361.8,227.2 358.0,240.0 C354.2,252.8 350.8,268.7 342.0,275.0 C333.2,281.3 313.3,283.8 305.0,278.0 C296.7,272.2 295.3,253.3 292.0,240.0 C288.7,226.7 272.8,205.0 285.0,198.0Z" fill="#9ad830" /><path d="M300.0,200.0 C308.0,194.5 344.5,194.5 352.0,202.0 C359.5,209.5 348.7,234.0 345.0,245.0 C341.3,256.0 335.5,265.2 330.0,268.0 C324.5,270.8 316.3,267.5 312.0,262.0 C307.7,256.5 306.0,245.3 304.0,235.0 C302.0,224.7 292.0,205.5 300.0,200.0Z" fill="#38c448" /><path d="M318.0,210.0 C322.2,204.5 341.0,206.2 345.0,212.0 C349.0,217.8 346.2,239.5 342.0,245.0 C337.8,250.5 324.0,250.8 320.0,245.0 C316.0,239.2 313.8,215.5 318.0,210.0Z" fill="#2a80e0" /><path d="M305.0,70.0 C314.2,65.0 332.5,58.0 345.0,55.0 C357.5,52.0 372.2,51.2 380.0,52.0 C387.8,52.8 390.7,53.7 392.0,60.0 C393.3,66.3 387.5,80.0 388.0,90.0 C388.5,100.0 393.3,108.3 395.0,120.0 C396.7,131.7 399.2,148.3 398.0,160.0 C396.8,171.7 393.5,182.5 388.0,190.0 C382.5,197.5 374.7,201.7 365.0,205.0 C355.3,208.3 340.8,210.8 330.0,210.0 C319.2,209.2 310.0,204.2 300.0,200.0 C290.0,195.8 276.7,191.7 270.0,185.0 C263.3,178.3 260.0,168.3 260.0,160.0 C260.0,151.7 267.0,145.0 270.0,135.0 C273.0,125.0 274.7,108.3 278.0,100.0 C281.3,91.7 285.5,90.0 290.0,85.0 C294.5,80.0 295.8,75.0 305.0,70.0Z" fill="#f8c21a" /></g>
<g transform="translate(50 486) scale(0.20927 0.21018)"><rect width="550" height="550" fill="#000"/><path d="M335.0,361.0 C341.7,354.7 360.8,346.3 380.0,343.0 C399.2,339.7 435.0,338.0 450.0,341.0 C465.0,344.0 467.0,355.2 470.0,361.0 C473.0,366.8 463.8,371.0 468.0,376.0 C472.2,381.0 491.3,386.8 495.0,391.0 C498.7,395.2 495.8,398.5 490.0,401.0 C484.2,403.5 468.3,400.2 460.0,406.0 C451.7,411.8 450.0,427.7 440.0,436.0 C430.0,444.3 412.5,453.5 400.0,456.0 C387.5,458.5 374.2,458.5 365.0,451.0 C355.8,443.5 349.2,422.7 345.0,411.0 C340.8,399.3 341.7,389.3 340.0,381.0 C338.3,372.7 328.3,367.3 335.0,361.0Z" fill="#1f76ea" /><path d="M230.0,466.0 C232.5,453.5 243.3,442.7 255.0,436.0 C266.7,429.3 286.7,425.2 300.0,426.0 C313.3,426.8 329.2,432.7 335.0,441.0 C340.8,449.3 339.2,466.0 335.0,476.0 C330.8,486.0 320.8,494.3 310.0,501.0 C299.2,507.7 281.7,514.3 270.0,516.0 C258.3,517.7 246.7,519.3 240.0,511.0 C233.3,502.7 227.5,478.5 230.0,466.0Z" fill="#2078e8" /><path d="M140.0,481.0 C145.0,471.0 161.7,456.3 175.0,451.0 C188.3,445.7 210.0,445.7 220.0,449.0 C230.0,452.3 235.0,462.3 235.0,471.0 C235.0,479.7 229.2,493.5 220.0,501.0 C210.8,508.5 192.5,514.3 180.0,516.0 C167.5,517.7 151.7,516.8 145.0,511.0 C138.3,505.2 135.0,491.0 140.0,481.0Z" fill="#1c70e6" /><path d="M310.0,501.0 C318.3,488.2 335.0,476.8 350.0,471.0 C365.0,465.2 385.0,461.0 400.0,466.0 C415.0,471.0 432.5,487.3 440.0,501.0 C447.5,514.7 468.3,540.2 445.0,548.0 C421.7,555.8 322.5,555.8 300.0,548.0 C277.5,540.2 301.7,513.8 310.0,501.0Z" fill="#1a6ce4" /><path d="M50.0,541.0 C59.2,536.5 81.7,524.7 100.0,521.0 C118.3,517.3 141.7,517.3 160.0,519.0 C178.3,520.7 200.8,526.2 210.0,531.0 C219.2,535.8 242.5,545.2 215.0,548.0 C187.5,550.8 72.5,549.2 45.0,548.0 C17.5,546.8 40.8,545.5 50.0,541.0Z" fill="#1a68e2" /><polyline points="300,421 320,381 345,366" fill="none" stroke="#40c840" stroke-width="4" stroke-linecap="round"/><polyline points="330,471 355,456" fill="none" stroke="#40c840" stroke-width="4" stroke-linecap="round"/><path d="M288.0,265.0 C288.3,312.5 289.7,502.5 290.0,550.0" fill="none" stroke="#f2d820" stroke-width="22" stroke-linecap="round"/><path d="M242.0,290.0 C247.8,283.3 270.0,283.3 275.0,290.0 C280.0,296.7 274.2,315.7 272.0,330.0 C269.8,344.3 266.5,369.0 262.0,376.0 C257.5,383.0 248.7,379.7 245.0,372.0 C241.3,364.3 240.5,343.7 240.0,330.0 C239.5,316.3 236.2,296.7 242.0,290.0Z" fill="#2a8eea" /><path d="M254.0,75.0 C261.7,73.2 288.5,72.5 298.0,75.0 C307.5,77.5 307.3,84.5 311.0,90.0 C314.7,95.5 313.5,105.0 320.0,108.0 C326.5,111.0 343.5,105.8 350.0,108.0 C356.5,110.2 358.3,110.2 359.0,121.0 C359.7,131.8 355.5,160.8 354.0,173.0 C352.5,185.2 353.5,186.8 350.0,194.0 C346.5,201.2 338.8,210.2 333.0,216.0 C327.2,221.8 319.3,223.3 315.0,229.0 C310.7,234.7 309.8,243.5 307.0,250.0 C304.2,256.5 301.0,262.2 298.0,268.0 C295.0,273.8 292.7,279.3 289.0,285.0 C285.3,290.7 281.8,297.7 276.0,302.0 C270.2,306.3 261.2,311.7 254.0,311.0 C246.8,310.3 240.2,302.3 233.0,298.0 C225.8,293.7 217.7,291.5 211.0,285.0 C204.3,278.5 193.0,267.7 193.0,259.0 C193.0,250.3 205.2,241.0 211.0,233.0 C216.8,225.0 225.8,221.0 228.0,211.0 C230.2,201.0 223.2,184.5 224.0,173.0 C224.8,161.5 228.7,150.7 233.0,142.0 C237.3,133.3 246.8,130.3 250.0,121.0 C253.2,111.7 251.3,93.7 252.0,86.0 C252.7,78.3 246.3,76.8 254.0,75.0Z" fill="#86d634" /><path d="M254.0,77.0 C262.3,71.2 288.5,74.0 298.0,77.0 C307.5,80.0 309.5,86.3 311.0,95.0 C312.5,103.7 312.2,121.2 307.0,129.0 C301.8,136.8 288.8,140.5 280.0,142.0 C271.2,143.5 259.3,143.0 254.0,138.0 C248.7,133.0 248.0,122.2 248.0,112.0 C248.0,101.8 245.7,82.8 254.0,77.0Z" fill="#cce220" /><path d="M315.0,112.0 C322.2,105.2 343.0,107.8 350.0,110.0 C357.0,112.2 356.7,114.5 357.0,125.0 C357.3,135.5 354.7,161.5 352.0,173.0 C349.3,184.5 347.8,189.8 341.0,194.0 C334.2,198.2 316.7,205.2 311.0,198.0 C305.3,190.8 306.3,165.3 307.0,151.0 C307.7,136.7 307.8,118.8 315.0,112.0Z" fill="#b4e026" /><path d="M260.0,130.0 C268.3,121.7 290.8,115.0 300.0,120.0 C309.2,125.0 315.0,147.5 315.0,160.0 C315.0,172.5 307.5,188.3 300.0,195.0 C292.5,201.7 278.3,204.2 270.0,200.0 C261.7,195.8 251.7,181.7 250.0,170.0 C248.3,158.3 251.7,138.3 260.0,130.0Z" fill="#80d830" /><path d="M224.0,207.0 C233.3,203.5 257.2,203.0 276.0,203.0 C294.8,203.0 327.5,203.5 337.0,207.0 C346.5,210.5 343.2,220.3 333.0,224.0 C322.8,227.7 294.8,229.0 276.0,229.0 C257.2,229.0 228.7,227.7 220.0,224.0 C211.3,220.3 214.7,210.5 224.0,207.0Z" fill="#dce220" /><path d="M237.0,229.0 C248.7,224.0 299.3,224.0 311.0,229.0 C322.7,234.0 311.3,249.7 307.0,259.0 C302.7,268.3 294.5,280.7 285.0,285.0 C275.5,289.3 257.3,289.3 250.0,285.0 C242.7,280.7 243.2,268.3 241.0,259.0 C238.8,249.7 225.3,234.0 237.0,229.0Z" fill="#3cbc60" /><path d="M193.0,255.0 C195.2,246.3 207.0,232.7 215.0,229.0 C223.0,225.3 235.8,226.5 241.0,233.0 C246.2,239.5 248.2,257.8 246.0,268.0 C243.8,278.2 235.3,291.8 228.0,294.0 C220.7,296.2 207.8,287.5 202.0,281.0 C196.2,274.5 190.8,263.7 193.0,255.0Z" fill="#b0e028" /><circle cx="254" cy="250" r="10" fill="#2a8ae4"/><circle cx="250" cy="160" r="6" fill="#2a8ae8"/></g>
<g transform="translate(173.1 486) scale(0.20855 0.21018)"><rect width="550" height="550" fill="#000"/><path d="M120.0,406.0 C125.0,401.3 143.3,394.3 160.0,391.0 C176.7,387.7 205.0,386.0 220.0,386.0 C235.0,386.0 245.8,386.8 250.0,391.0 C254.2,395.2 256.7,407.7 245.0,411.0 C233.3,414.3 199.2,409.7 180.0,411.0 C160.8,412.3 140.0,419.8 130.0,419.0 C120.0,418.2 115.0,410.7 120.0,406.0Z" fill="#3cc8a0" /><path d="M170.0,431.0 C178.3,414.3 201.7,408.0 215.0,401.0 C228.3,394.0 240.0,389.8 250.0,389.0 C260.0,388.2 270.8,384.8 275.0,396.0 C279.2,407.2 279.2,443.5 275.0,456.0 C270.8,468.5 260.8,465.2 250.0,471.0 C239.2,476.8 220.0,480.2 210.0,491.0 C200.0,501.8 196.7,526.5 190.0,536.0 C183.3,545.5 174.2,553.8 170.0,548.0 C165.8,542.2 165.0,520.5 165.0,501.0 C165.0,481.5 161.7,447.7 170.0,431.0Z" fill="#1a62e0" /><path d="M265.0,471.0 C272.5,454.0 289.2,446.8 300.0,446.0 C310.8,445.2 320.0,456.0 330.0,466.0 C340.0,476.0 350.8,492.3 360.0,506.0 C369.2,519.7 402.5,541.0 385.0,548.0 C367.5,555.0 275.0,560.8 255.0,548.0 C235.0,535.2 257.5,488.0 265.0,471.0Z" fill="#1a58dc" /><path d="M262.0,371.0 C267.0,366.2 287.8,367.0 300.0,367.0 C312.2,367.0 330.0,366.7 335.0,371.0 C340.0,375.3 340.8,388.8 330.0,393.0 C319.2,397.2 281.3,399.7 270.0,396.0 C258.7,392.3 257.0,375.8 262.0,371.0Z" fill="#3cc870" /><path d="M298.0,283.0 C301.0,279.0 314.0,281.0 318.0,285.0 C322.0,289.0 325.0,303.0 322.0,307.0 C319.0,311.0 304.0,313.0 300.0,309.0 C296.0,305.0 295.0,287.0 298.0,283.0Z" fill="#3cc870" /><path d="M285.0,238.0 C285.0,277.5 285.0,435.5 285.0,475.0" fill="none" stroke="#f8b81e" stroke-width="24" stroke-linecap="round"/><rect x="285" y="311" width="91" height="60" fill="#f8d020"/><path d="M235.0,95.0 C244.2,88.8 260.8,82.2 270.0,78.0 C279.2,73.8 283.3,69.3 290.0,70.0 C296.7,70.7 303.3,77.0 310.0,82.0 C316.7,87.0 324.2,95.3 330.0,100.0 C335.8,104.7 341.3,104.2 345.0,110.0 C348.7,115.8 348.2,129.2 352.0,135.0 C355.8,140.8 362.5,142.5 368.0,145.0 C373.5,147.5 381.3,146.7 385.0,150.0 C388.7,153.3 392.2,156.7 390.0,165.0 C387.8,173.3 377.8,191.7 372.0,200.0 C366.2,208.3 363.7,209.2 355.0,215.0 C346.3,220.8 329.2,230.0 320.0,235.0 C310.8,240.0 308.3,244.2 300.0,245.0 C291.7,245.8 279.2,239.5 270.0,240.0 C260.8,240.5 250.0,250.5 245.0,248.0 C240.0,245.5 242.5,233.0 240.0,225.0 C237.5,217.0 232.5,210.8 230.0,200.0 C227.5,189.2 228.7,170.0 225.0,160.0 C221.3,150.0 212.2,145.3 208.0,140.0 C203.8,134.7 198.8,132.2 200.0,128.0 C201.2,123.8 209.2,120.5 215.0,115.0 C220.8,109.5 225.8,101.2 235.0,95.0Z" fill="#f8b416" /><path d="M245.0,150.0 C254.2,138.3 282.5,130.0 300.0,130.0 C317.5,130.0 340.0,140.0 350.0,150.0 C360.0,160.0 365.0,177.5 360.0,190.0 C355.0,202.5 335.0,218.3 320.0,225.0 C305.0,231.7 282.5,234.2 270.0,230.0 C257.5,225.8 249.2,213.3 245.0,200.0 C240.8,186.7 235.8,161.7 245.0,150.0Z" fill="#f8c41e" /><path d="M265.0,238.0 C268.7,234.3 286.2,232.7 290.0,236.0 C293.8,239.3 291.7,254.3 288.0,258.0 C284.3,261.7 271.8,261.3 268.0,258.0 C264.2,254.7 261.3,241.7 265.0,238.0Z" fill="#40c050" /></g>
<g transform="translate(296 486) scale(0.20964 0.21018)"><rect width="550" height="550" fill="#000"/><path d="M170.0,436.0 C183.3,430.2 214.2,425.2 230.0,426.0 C245.8,426.8 260.8,434.3 265.0,441.0 C269.2,447.7 260.8,456.0 255.0,466.0 C249.2,476.0 231.7,490.2 230.0,501.0 C228.3,511.8 240.8,523.2 245.0,531.0 C249.2,538.8 279.2,545.2 255.0,548.0 C230.8,550.8 121.7,556.7 100.0,548.0 C78.3,539.3 116.7,510.5 125.0,496.0 C133.3,481.5 142.5,471.0 150.0,461.0 C157.5,451.0 156.7,441.8 170.0,436.0Z" fill="#2a7ee2" /><path d="M290.0,461.0 C300.0,444.8 325.0,454.3 340.0,451.0 C355.0,447.7 370.0,437.7 380.0,441.0 C390.0,444.3 394.2,453.2 400.0,471.0 C405.8,488.8 435.0,535.2 415.0,548.0 C395.0,560.8 300.8,562.5 280.0,548.0 C259.2,533.5 280.0,477.2 290.0,461.0Z" fill="#2a7ce2" /><path d="M165.0,436.0 C170.8,429.8 208.8,427.8 225.0,429.0 C241.2,430.2 258.7,437.7 262.0,443.0 C265.3,448.3 257.0,457.2 245.0,461.0 C233.0,464.8 203.3,470.2 190.0,466.0 C176.7,461.8 159.2,442.2 165.0,436.0Z" fill="#c8e020" /><path d="M300.0,456.0 C306.7,451.8 331.7,453.2 345.0,451.0 C358.3,448.8 373.3,440.5 380.0,443.0 C386.7,445.5 391.7,460.5 385.0,466.0 C378.3,471.5 353.3,474.3 340.0,476.0 C326.7,477.7 311.7,479.3 305.0,476.0 C298.3,472.7 293.3,460.2 300.0,456.0Z" fill="#40c448" /><path d="M120.0,536.0 C120.8,528.2 134.2,505.2 140.0,501.0 C145.8,496.8 155.8,503.2 155.0,511.0 C154.2,518.8 140.8,543.8 135.0,548.0 C129.2,552.2 119.2,543.8 120.0,536.0Z" fill="#40c448" /><path d="M290.0,290.0 C290.0,317.5 290.0,427.5 290.0,455.0" fill="none" stroke="#f2a41e" stroke-width="14" stroke-linecap="round"/><rect x="263" y="311" width="37" height="70" fill="#ec6c22"/><path d="M251.0,105.0 C255.5,99.2 267.0,96.7 273.0,93.0 C279.0,89.3 281.5,84.7 287.0,83.0 C292.5,81.3 301.2,81.3 306.0,83.0 C310.8,84.7 313.7,87.8 316.0,93.0 C318.3,98.2 316.8,107.3 320.0,114.0 C323.2,120.7 330.2,126.7 335.0,133.0 C339.8,139.3 344.2,150.0 349.0,152.0 C353.8,154.0 358.3,146.2 364.0,145.0 C369.7,143.8 378.3,142.7 383.0,145.0 C387.7,147.3 392.8,155.8 392.0,159.0 C391.2,162.2 382.7,161.2 378.0,164.0 C373.3,166.8 368.0,170.0 364.0,176.0 C360.0,182.0 357.3,192.8 354.0,200.0 C350.7,207.2 348.0,212.7 344.0,219.0 C340.0,225.3 330.7,230.2 330.0,238.0 C329.3,245.8 336.0,258.2 340.0,266.0 C344.0,273.8 353.3,280.2 354.0,285.0 C354.7,289.8 348.8,294.2 344.0,295.0 C339.2,295.8 331.3,294.8 325.0,290.0 C318.7,285.2 310.0,266.8 306.0,266.0 C302.0,265.2 302.5,278.7 301.0,285.0 C299.5,291.3 300.2,300.8 297.0,304.0 C293.8,307.2 284.8,307.8 282.0,304.0 C279.2,300.2 282.3,288.0 280.0,281.0 C277.7,274.0 274.8,266.8 268.0,262.0 C261.2,257.2 247.0,254.5 239.0,252.0 C231.0,249.5 224.0,251.0 220.0,247.0 C216.0,243.0 219.0,233.5 215.0,228.0 C211.0,222.5 200.0,221.0 196.0,214.0 C192.0,207.0 188.7,191.5 191.0,186.0 C193.3,180.5 202.0,180.3 210.0,181.0 C218.0,181.7 233.3,193.2 239.0,190.0 C244.7,186.8 242.8,172.3 244.0,162.0 C245.2,151.7 244.8,137.5 246.0,128.0 C247.2,118.5 246.5,110.8 251.0,105.0Z" fill="#f8c81e" /><path d="M260.0,120.0 C265.0,105.0 288.3,105.0 300.0,110.0 C311.7,115.0 323.3,135.0 330.0,150.0 C336.7,165.0 343.3,190.0 340.0,200.0 C336.7,210.0 321.7,210.0 310.0,210.0 C298.3,210.0 278.3,215.0 270.0,200.0 C261.7,185.0 255.0,135.0 260.0,120.0Z" fill="#f4dc20" /><path d="M253.0,109.0 C252.2,102.7 262.3,101.0 268.0,105.0 C273.7,109.0 280.7,122.8 287.0,133.0 C293.3,143.2 303.7,158.8 306.0,166.0 C308.3,173.2 304.2,175.2 301.0,176.0 C297.8,176.8 291.7,176.5 287.0,171.0 C282.3,165.5 278.7,153.3 273.0,143.0 C267.3,132.7 253.8,115.3 253.0,109.0Z" fill="#ee5420" /><path d="M282.0,86.0 C285.5,82.8 300.8,81.5 306.0,83.0 C311.2,84.5 313.8,91.3 313.0,95.0 C312.2,98.7 305.7,103.8 301.0,105.0 C296.3,106.2 288.2,105.2 285.0,102.0 C281.8,98.8 278.5,89.2 282.0,86.0Z" fill="#f0642a" /><path d="M194.0,183.0 C197.2,179.2 209.0,182.3 215.0,186.0 C221.0,189.7 230.0,200.3 230.0,205.0 C230.0,209.7 220.7,213.3 215.0,214.0 C209.3,214.7 199.5,214.2 196.0,209.0 C192.5,203.8 190.8,186.8 194.0,183.0Z" fill="#f07028" /><path d="M253.0,207.0 C255.3,203.8 269.0,204.7 277.0,205.0 C285.0,205.3 293.8,207.5 301.0,209.0 C308.2,210.5 315.2,210.8 320.0,214.0 C324.8,217.2 330.7,224.0 330.0,228.0 C329.3,232.0 323.2,237.2 316.0,238.0 C308.8,238.8 295.8,235.3 287.0,233.0 C278.2,230.7 268.7,228.3 263.0,224.0 C257.3,219.7 250.7,210.2 253.0,207.0Z" fill="#3cc040" /><path d="M344.0,176.0 C346.0,168.8 357.5,156.8 364.0,152.0 C370.5,147.2 379.2,145.8 383.0,147.0 C386.8,148.2 389.5,155.0 387.0,159.0 C384.5,163.0 373.8,165.0 368.0,171.0 C362.2,177.0 356.0,194.2 352.0,195.0 C348.0,195.8 342.0,183.2 344.0,176.0Z" fill="#f08a24" /><path d="M292.0,228.0 C294.3,224.0 304.7,228.2 311.0,233.0 C317.3,237.8 324.5,248.3 330.0,257.0 C335.5,265.7 343.2,278.7 344.0,285.0 C344.8,291.3 339.7,295.7 335.0,295.0 C330.3,294.3 322.3,287.3 316.0,281.0 C309.7,274.7 301.0,265.8 297.0,257.0 C293.0,248.2 289.7,232.0 292.0,228.0Z" fill="#f2902a" /><circle cx="304" cy="214" r="7" fill="#2a6ee0"/><circle cx="342" cy="170" r="6" fill="#2a80e0"/></g>
<g transform="translate(417.3 486) scale(0.20891 0.21018)"><rect width="550" height="550" fill="#000"/><path d="M245.0,436.0 C248.3,424.3 250.8,425.2 260.0,421.0 C269.2,416.8 285.0,412.3 300.0,411.0 C315.0,409.7 335.0,408.8 350.0,413.0 C365.0,417.2 379.2,426.3 390.0,436.0 C400.8,445.7 409.2,458.5 415.0,471.0 C420.8,483.5 424.2,498.2 425.0,511.0 C425.8,523.8 450.0,541.8 420.0,548.0 C390.0,554.2 275.0,557.5 245.0,548.0 C215.0,538.5 240.0,509.7 240.0,491.0 C240.0,472.3 241.7,447.7 245.0,436.0Z" fill="#f0e020" /><path d="M300.0,436.0 C308.7,428.5 334.2,427.7 350.0,431.0 C365.8,434.3 384.7,444.3 395.0,456.0 C405.3,467.7 410.3,487.2 412.0,501.0 C413.7,514.8 417.0,532.0 405.0,539.0 C393.0,546.0 355.8,546.8 340.0,543.0 C324.2,539.2 317.0,527.2 310.0,516.0 C303.0,504.8 299.7,489.3 298.0,476.0 C296.3,462.7 291.3,443.5 300.0,436.0Z" fill="#58c440" /><path d="M320.0,486.0 C324.2,478.3 349.2,479.7 360.0,483.0 C370.8,486.3 382.5,498.3 385.0,506.0 C387.5,513.7 383.3,525.2 375.0,529.0 C366.7,532.8 344.2,536.2 335.0,529.0 C325.8,521.8 315.8,493.7 320.0,486.0Z" fill="#3090d0" /><path d="M150.0,548.0 C136.7,543.5 160.0,527.5 170.0,521.0 C180.0,514.5 197.5,510.7 210.0,509.0 C222.5,507.3 238.3,504.5 245.0,511.0 C251.7,517.5 265.8,541.8 250.0,548.0 C234.2,554.2 163.3,552.5 150.0,548.0Z" fill="#f0e020" /><path d="M270.0,258.0 C269.7,273.3 268.7,321.3 268.0,350.0 C267.3,378.7 266.3,416.7 266.0,430.0" fill="none" stroke="#e87428" stroke-width="18" stroke-linecap="round"/><path d="M260.0,70.0 C269.2,62.5 287.5,49.2 295.0,50.0 C302.5,50.8 299.2,66.7 305.0,75.0 C310.8,83.3 323.3,93.3 330.0,100.0 C336.7,106.7 340.0,108.3 345.0,115.0 C350.0,121.7 358.8,131.7 360.0,140.0 C361.2,148.3 355.3,155.8 352.0,165.0 C348.7,174.2 341.2,186.7 340.0,195.0 C338.8,203.3 345.0,208.3 345.0,215.0 C345.0,221.7 344.2,229.5 340.0,235.0 C335.8,240.5 328.3,244.7 320.0,248.0 C311.7,251.3 298.3,252.7 290.0,255.0 C281.7,257.3 277.5,261.5 270.0,262.0 C262.5,262.5 251.3,261.7 245.0,258.0 C238.7,254.3 235.3,248.0 232.0,240.0 C228.7,232.0 227.3,220.8 225.0,210.0 C222.7,199.2 219.7,186.7 218.0,175.0 C216.3,163.3 214.3,150.0 215.0,140.0 C215.7,130.0 217.8,122.5 222.0,115.0 C226.2,107.5 233.7,102.5 240.0,95.0 C246.3,87.5 250.8,77.5 260.0,70.0Z" fill="#f8ac20" /><path d="M280.0,90.0 C285.0,74.2 300.0,79.2 310.0,85.0 C320.0,90.8 334.2,110.0 340.0,125.0 C345.8,140.0 346.7,158.3 345.0,175.0 C343.3,191.7 337.5,214.2 330.0,225.0 C322.5,235.8 308.3,247.5 300.0,240.0 C291.7,232.5 283.3,205.0 280.0,180.0 C276.7,155.0 275.0,105.8 280.0,90.0Z" fill="#f8bc2c" /></g>
<g transform="translate(50 608) scale(0.20927 0.20836)"><rect width="550" height="550" fill="#000"/><path d="M308.0,240.0 C308.3,255.0 308.8,303.3 310.0,330.0 C311.2,356.7 314.2,388.3 315.0,400.0" fill="none" stroke="#7aa250" stroke-width="14" stroke-linecap="round"/><path d="M258.0,283.6 C262.5,275.3 281.0,275.3 285.0,283.6 C289.0,291.9 284.8,321.1 282.0,333.6 C279.2,346.1 272.0,358.6 268.0,358.6 C264.0,358.6 259.7,346.1 258.0,333.6 C256.3,321.1 253.5,291.9 258.0,283.6Z" fill="#5f8c40" /><path d="M350.0,348.6 C355.0,342.4 368.3,335.4 380.0,331.6 C391.7,327.8 406.7,326.9 420.0,325.6 C433.3,324.3 450.8,318.9 460.0,323.6 C469.2,328.3 473.3,346.9 475.0,353.6 C476.7,360.3 465.8,359.4 470.0,363.6 C474.2,367.8 496.7,374.4 500.0,378.6 C503.3,382.8 495.8,386.9 490.0,388.6 C484.2,390.3 471.7,384.4 465.0,388.6 C458.3,392.8 459.2,406.4 450.0,413.6 C440.8,420.8 422.5,429.1 410.0,431.6 C397.5,434.1 383.3,434.9 375.0,428.6 C366.7,422.3 364.2,403.6 360.0,393.6 C355.8,383.6 351.7,376.1 350.0,368.6 C348.3,361.1 345.0,354.8 350.0,348.6Z" fill="#62a04a" /><path d="M162.0,468.6 C163.7,460.6 171.2,449.8 180.0,443.6 C188.8,437.4 204.2,432.4 215.0,431.6 C225.8,430.8 239.2,433.3 245.0,438.6 C250.8,443.9 252.5,456.1 250.0,463.6 C247.5,471.1 239.2,478.3 230.0,483.6 C220.8,488.9 205.0,494.3 195.0,495.6 C185.0,496.9 175.5,496.1 170.0,491.6 C164.5,487.1 160.3,476.6 162.0,468.6Z" fill="#72a85a" /><path d="M240.0,483.6 C242.5,471.9 250.8,455.3 260.0,443.6 C269.2,431.9 282.5,419.4 295.0,413.6 C307.5,407.8 325.0,405.3 335.0,408.6 C345.0,411.9 353.3,423.6 355.0,433.6 C356.7,443.6 352.5,457.8 345.0,468.6 C337.5,479.4 322.5,490.3 310.0,498.6 C297.5,506.9 280.8,516.1 270.0,518.6 C259.2,521.1 250.0,519.4 245.0,513.6 C240.0,507.8 237.5,495.3 240.0,483.6Z" fill="#5e9a48" /><path d="M305.0,523.6 C309.2,510.8 319.2,486.6 330.0,473.6 C340.8,460.6 356.7,450.6 370.0,445.6 C383.3,440.6 398.3,439.8 410.0,443.6 C421.7,447.4 432.5,456.9 440.0,468.6 C447.5,480.3 453.3,499.9 455.0,513.6 C456.7,527.3 475.0,544.4 450.0,550.6 C425.0,556.8 329.2,555.1 305.0,550.6 C280.8,546.1 300.8,536.4 305.0,523.6Z" fill="#58963f" /><path d="M60.0,543.6 C64.2,538.3 71.7,525.3 80.0,518.6 C88.3,511.9 98.3,505.3 110.0,503.6 C121.7,501.9 135.0,508.6 150.0,508.6 C165.0,508.6 185.0,502.8 200.0,503.6 C215.0,504.4 231.7,505.8 240.0,513.6 C248.3,521.4 280.8,544.4 250.0,550.6 C219.2,556.8 86.7,551.8 55.0,550.6 C23.3,549.4 55.8,548.9 60.0,543.6Z" fill="#5c9a46" /><path d="M255.0,232.0 C266.7,226.3 318.3,222.5 330.0,228.0 C341.7,233.5 329.2,255.5 325.0,265.0 C320.8,274.5 313.3,281.7 305.0,285.0 C296.7,288.3 282.5,288.8 275.0,285.0 C267.5,281.2 263.3,270.8 260.0,262.0 C256.7,253.2 243.3,237.7 255.0,232.0Z" fill="#5e8a3e" /><path d="M275.0,75.0 C280.0,67.5 288.3,57.2 295.0,55.0 C301.7,52.8 310.0,57.8 315.0,62.0 C320.0,66.2 319.2,75.3 325.0,80.0 C330.8,84.7 345.0,85.8 350.0,90.0 C355.0,94.2 352.0,102.0 355.0,105.0 C358.0,108.0 366.3,102.2 368.0,108.0 C369.7,113.8 366.3,128.8 365.0,140.0 C363.7,151.2 361.2,165.0 360.0,175.0 C358.8,185.0 361.3,193.3 358.0,200.0 C354.7,206.7 349.7,211.3 340.0,215.0 C330.3,218.7 311.7,218.7 300.0,222.0 C288.3,225.3 278.3,229.5 270.0,235.0 C261.7,240.5 255.0,248.0 250.0,255.0 C245.0,262.0 245.0,275.3 240.0,277.0 C235.0,278.7 224.7,271.2 220.0,265.0 C215.3,258.8 212.3,248.3 212.0,240.0 C211.7,231.7 213.3,222.5 218.0,215.0 C222.7,207.5 235.5,203.3 240.0,195.0 C244.5,186.7 242.5,175.8 245.0,165.0 C247.5,154.2 251.7,140.8 255.0,130.0 C258.3,119.2 261.7,109.2 265.0,100.0 C268.3,90.8 270.0,82.5 275.0,75.0Z" fill="#f2c2b8" /><path d="M290.0,80.0 C297.5,75.8 310.8,80.0 320.0,85.0 C329.2,90.0 340.8,95.8 345.0,110.0 C349.2,124.2 349.2,155.0 345.0,170.0 C340.8,185.0 330.8,195.8 320.0,200.0 C309.2,204.2 289.2,203.3 280.0,195.0 C270.8,186.7 265.8,164.2 265.0,150.0 C264.2,135.8 270.8,121.7 275.0,110.0 C279.2,98.3 282.5,84.2 290.0,80.0Z" fill="#f6d4cc" /></g>
<g transform="translate(173.1 608) scale(0.20855 0.20836)"><rect width="550" height="550" fill="#000"/><path d="M115.0,408.6 C118.3,402.8 137.5,393.6 150.0,388.6 C162.5,383.6 180.8,377.8 190.0,378.6 C199.2,379.4 206.7,387.8 205.0,393.6 C203.3,399.4 192.5,408.6 180.0,413.6 C167.5,418.6 140.8,424.4 130.0,423.6 C119.2,422.8 111.7,414.4 115.0,408.6Z" fill="#5e9a4c" /><path d="M165.0,433.6 C170.3,423.6 187.5,406.6 200.0,398.6 C212.5,390.6 228.3,386.4 240.0,385.6 C251.7,384.8 264.2,387.3 270.0,393.6 C275.8,399.9 280.0,413.6 275.0,423.6 C270.0,433.6 253.3,446.1 240.0,453.6 C226.7,461.1 207.0,467.8 195.0,468.6 C183.0,469.4 173.0,464.4 168.0,458.6 C163.0,452.8 159.7,443.6 165.0,433.6Z" fill="#86ac7c" /><path d="M258.0,383.6 C259.7,378.1 286.3,369.4 300.0,368.6 C313.7,367.8 333.3,374.4 340.0,378.6 C346.7,382.8 348.3,389.8 340.0,393.6 C331.7,397.4 303.7,403.3 290.0,401.6 C276.3,399.9 256.3,389.1 258.0,383.6Z" fill="#88b07e" /><path d="M165.0,468.6 C171.7,454.1 193.3,457.8 200.0,463.6 C206.7,469.4 207.5,489.1 205.0,503.6 C202.5,518.1 192.5,542.8 185.0,550.6 C177.5,558.4 163.3,564.3 160.0,550.6 C156.7,536.9 158.3,483.1 165.0,468.6Z" fill="#4e8a3c" /><path d="M235.0,473.6 C239.7,461.9 249.2,449.4 260.0,443.6 C270.8,437.8 287.5,436.1 300.0,438.6 C312.5,441.1 325.0,450.3 335.0,458.6 C345.0,466.9 351.7,476.1 360.0,488.6 C368.3,501.1 381.7,523.3 385.0,533.6 C388.3,543.9 403.3,547.8 380.0,550.6 C356.7,553.4 269.7,556.8 245.0,550.6 C220.3,544.4 233.7,526.4 232.0,513.6 C230.3,500.8 230.3,485.3 235.0,473.6Z" fill="#4c8c3e" /><path d="M287.0,232.0 C286.8,266.7 286.2,405.3 286.0,440.0" fill="none" stroke="#78a050" stroke-width="13" stroke-linecap="round"/><rect x="282" y="312" width="73" height="47" fill="#f0a242"/><path d="M266.0,225.0 C270.5,216.7 306.3,217.5 312.0,225.0 C317.7,232.5 304.5,261.7 300.0,270.0 C295.5,278.3 290.7,282.5 285.0,275.0 C279.3,267.5 261.5,233.3 266.0,225.0Z" fill="#6a9848" /><path d="M240.0,80.0 C249.2,74.7 260.0,71.0 270.0,68.0 C280.0,65.0 290.8,61.3 300.0,62.0 C309.2,62.7 317.5,67.7 325.0,72.0 C332.5,76.3 340.5,81.7 345.0,88.0 C349.5,94.3 352.0,100.5 352.0,110.0 C352.0,119.5 345.3,135.0 345.0,145.0 C344.7,155.0 345.0,168.3 350.0,170.0 C355.0,171.7 368.3,159.2 375.0,155.0 C381.7,150.8 386.2,145.8 390.0,145.0 C393.8,144.2 398.8,145.0 398.0,150.0 C397.2,155.0 390.5,167.5 385.0,175.0 C379.5,182.5 371.7,189.2 365.0,195.0 C358.3,200.8 352.5,205.0 345.0,210.0 C337.5,215.0 329.2,221.3 320.0,225.0 C310.8,228.7 299.7,231.5 290.0,232.0 C280.3,232.5 271.2,229.2 262.0,228.0 C252.8,226.8 241.2,231.3 235.0,225.0 C228.8,218.7 227.2,204.2 225.0,190.0 C222.8,175.8 225.3,150.8 222.0,140.0 C218.7,129.2 209.0,129.2 205.0,125.0 C201.0,120.8 196.3,119.2 198.0,115.0 C199.7,110.8 208.0,105.8 215.0,100.0 C222.0,94.2 230.8,85.3 240.0,80.0Z" fill="#f6d4cc" /><path d="M245.0,88.0 C253.3,80.8 275.8,72.5 290.0,72.0 C304.2,71.5 321.7,77.0 330.0,85.0 C338.3,93.0 341.7,109.2 340.0,120.0 C338.3,130.8 331.7,145.8 320.0,150.0 C308.3,154.2 283.3,150.8 270.0,145.0 C256.7,139.2 244.2,124.5 240.0,115.0 C235.8,105.5 236.7,95.2 245.0,88.0Z" fill="#f9e0dc" /></g>
<g transform="translate(296 608) scale(0.20964 0.20836)"><rect width="550" height="550" fill="#000"/><path d="M120.0,550.6 C116.7,542.8 130.8,519.8 140.0,503.6 C149.2,487.4 163.3,464.4 175.0,453.6 C186.7,442.8 200.0,438.6 210.0,438.6 C220.0,438.6 232.5,446.1 235.0,453.6 C237.5,461.1 233.3,475.3 225.0,483.6 C216.7,491.9 195.8,492.4 185.0,503.6 C174.2,514.8 170.8,542.8 160.0,550.6 C149.2,558.4 123.3,558.4 120.0,550.6Z" fill="#4a8a3c" /><path d="M230.0,468.6 C233.8,456.9 245.8,446.1 255.0,443.6 C264.2,441.1 278.3,445.3 285.0,453.6 C291.7,461.9 294.2,477.4 295.0,493.6 C295.8,509.8 298.3,541.1 290.0,550.6 C281.7,560.1 254.7,556.8 245.0,550.6 C235.3,544.4 234.5,527.3 232.0,513.6 C229.5,499.9 226.2,480.3 230.0,468.6Z" fill="#4a8a3a" /><path d="M305.0,473.6 C310.8,459.1 331.7,466.6 345.0,463.6 C358.3,460.6 374.2,453.1 385.0,455.6 C395.8,458.1 404.5,462.8 410.0,478.6 C415.5,494.4 434.7,538.6 418.0,550.6 C401.3,562.6 328.8,563.4 310.0,550.6 C291.2,537.8 299.2,488.1 305.0,473.6Z" fill="#4c8c3e" /><path d="M300.0,232.0 C300.3,256.7 301.2,327.0 302.0,380.0 C302.8,433.0 304.5,521.7 305.0,550.0" fill="none" stroke="#6c9c50" stroke-width="12" stroke-linecap="round"/><rect x="273" y="332" width="37" height="52" fill="#e8c050"/><path d="M230.0,245.0 C235.0,240.0 259.7,238.3 270.0,240.0 C280.3,241.7 290.3,249.7 292.0,255.0 C293.7,260.3 288.7,269.5 280.0,272.0 C271.3,274.5 248.3,274.5 240.0,270.0 C231.7,265.5 225.0,250.0 230.0,245.0Z" fill="#f0c4bc" /><path d="M265.0,105.0 C269.7,100.8 282.5,98.3 290.0,95.0 C297.5,91.7 304.2,87.2 310.0,85.0 C315.8,82.8 321.7,79.5 325.0,82.0 C328.3,84.5 326.7,93.7 330.0,100.0 C333.3,106.3 339.7,111.7 345.0,120.0 C350.3,128.3 356.5,145.8 362.0,150.0 C367.5,154.2 372.5,145.3 378.0,145.0 C383.5,144.7 391.3,145.8 395.0,148.0 C398.7,150.2 401.7,154.3 400.0,158.0 C398.3,161.7 389.7,163.8 385.0,170.0 C380.3,176.2 375.3,186.7 372.0,195.0 C368.7,203.3 369.5,213.3 365.0,220.0 C360.5,226.7 350.8,231.7 345.0,235.0 C339.2,238.3 330.8,235.0 330.0,240.0 C329.2,245.0 335.0,256.7 340.0,265.0 C345.0,273.3 358.3,283.3 360.0,290.0 C361.7,296.7 355.0,303.3 350.0,305.0 C345.0,306.7 335.8,304.2 330.0,300.0 C324.2,295.8 319.2,286.7 315.0,280.0 C310.8,273.3 308.3,266.7 305.0,260.0 C301.7,253.3 300.0,242.5 295.0,240.0 C290.0,237.5 280.0,241.7 275.0,245.0 C270.0,248.3 270.8,256.7 265.0,260.0 C259.2,263.3 245.5,266.7 240.0,265.0 C234.5,263.3 230.3,254.2 232.0,250.0 C233.7,245.8 250.3,244.2 250.0,240.0 C249.7,235.8 236.7,230.0 230.0,225.0 C223.3,220.0 214.2,215.8 210.0,210.0 C205.8,204.2 203.3,193.7 205.0,190.0 C206.7,186.3 213.3,185.5 220.0,188.0 C226.7,190.5 239.2,206.3 245.0,205.0 C250.8,203.7 253.3,190.0 255.0,180.0 C256.7,170.0 253.8,155.0 255.0,145.0 C256.2,135.0 260.3,126.7 262.0,120.0 C263.7,113.3 260.3,109.2 265.0,105.0Z" fill="#f5d2ca" /><path d="M272.0,110.0 C280.7,96.7 307.8,91.7 320.0,95.0 C332.2,98.3 340.8,114.2 345.0,130.0 C349.2,145.8 351.7,176.7 345.0,190.0 C338.3,203.3 317.8,212.5 305.0,210.0 C292.2,207.5 273.5,191.7 268.0,175.0 C262.5,158.3 263.3,123.3 272.0,110.0Z" fill="#f9e0dc" /></g>
<g transform="translate(417.3 608) scale(0.20891 0.20836)"><rect width="550" height="550" fill="#000"/><path d="M245.0,448.6 C249.2,437.3 255.8,429.8 265.0,425.6 C274.2,421.4 285.8,425.3 300.0,423.6 C314.2,421.9 336.7,413.1 350.0,415.6 C363.3,418.1 369.2,429.8 380.0,438.6 C390.8,447.4 406.3,456.1 415.0,468.6 C423.7,481.1 429.5,499.9 432.0,513.6 C434.5,527.3 460.3,544.4 430.0,550.6 C399.7,556.8 281.7,560.1 250.0,550.6 C218.3,541.1 240.8,510.6 240.0,493.6 C239.2,476.6 240.8,459.9 245.0,448.6Z" fill="#4e9c4a" /><path d="M290.0,448.6 C293.3,436.1 323.3,436.1 340.0,438.6 C356.7,441.1 378.3,451.1 390.0,463.6 C401.7,476.1 411.7,501.9 410.0,513.6 C408.3,525.3 395.0,533.6 380.0,533.6 C365.0,533.6 335.0,527.8 320.0,513.6 C305.0,499.4 286.7,461.1 290.0,448.6Z" fill="#62aa5c" /><path d="M135.0,550.6 C120.8,546.9 149.2,534.3 160.0,528.6 C170.8,522.9 186.7,517.4 200.0,516.6 C213.3,515.8 232.5,517.9 240.0,523.6 C247.5,529.3 262.5,546.1 245.0,550.6 C227.5,555.1 149.2,554.3 135.0,550.6Z" fill="#5aa052" /><path d="M272.0,245.0 C271.0,262.5 267.7,317.5 266.0,350.0 C264.3,382.5 262.7,425.0 262.0,440.0" fill="none" stroke="#84a656" stroke-width="15" stroke-linecap="round"/><path d="M265.0,60.0 C272.2,53.3 282.2,40.8 288.0,40.0 C293.8,39.2 295.5,49.2 300.0,55.0 C304.5,60.8 310.0,67.5 315.0,75.0 C320.0,82.5 323.3,92.2 330.0,100.0 C336.7,107.8 352.0,115.3 355.0,122.0 C358.0,128.7 351.3,132.8 348.0,140.0 C344.7,147.2 337.7,158.3 335.0,165.0 C332.3,171.7 329.8,174.2 332.0,180.0 C334.2,185.8 346.7,192.5 348.0,200.0 C349.3,207.5 346.3,218.3 340.0,225.0 C333.7,231.7 322.5,236.2 310.0,240.0 C297.5,243.8 277.5,246.3 265.0,248.0 C252.5,249.7 241.2,253.0 235.0,250.0 C228.8,247.0 228.5,240.0 228.0,230.0 C227.5,220.0 233.3,200.0 232.0,190.0 C230.7,180.0 222.8,180.0 220.0,170.0 C217.2,160.0 216.3,139.2 215.0,130.0 C213.7,120.8 209.5,120.0 212.0,115.0 C214.5,110.0 224.5,105.8 230.0,100.0 C235.5,94.2 239.2,86.7 245.0,80.0 C250.8,73.3 257.8,66.7 265.0,60.0Z" fill="#e6bea8" /><path d="M250.0,100.0 C258.3,91.7 277.5,78.3 290.0,80.0 C302.5,81.7 319.2,96.7 325.0,110.0 C330.8,123.3 331.7,150.0 325.0,160.0 C318.3,170.0 298.3,170.8 285.0,170.0 C271.7,169.2 252.5,161.7 245.0,155.0 C237.5,148.3 239.2,139.2 240.0,130.0 C240.8,120.8 241.7,108.3 250.0,100.0Z" fill="#eccab4" /><polyline points="225,110 260,100 300,130 330,140" fill="none" stroke="#e0909a" stroke-width="6" stroke-linecap="round"/><polyline points="240,200 290,195 340,205" fill="none" stroke="#e29aa0" stroke-width="6" stroke-linecap="round"/><polyline points="232,240 240,210" fill="none" stroke="#e898a8" stroke-width="8" stroke-linecap="round"/></g>
</svg>
</body></html>
